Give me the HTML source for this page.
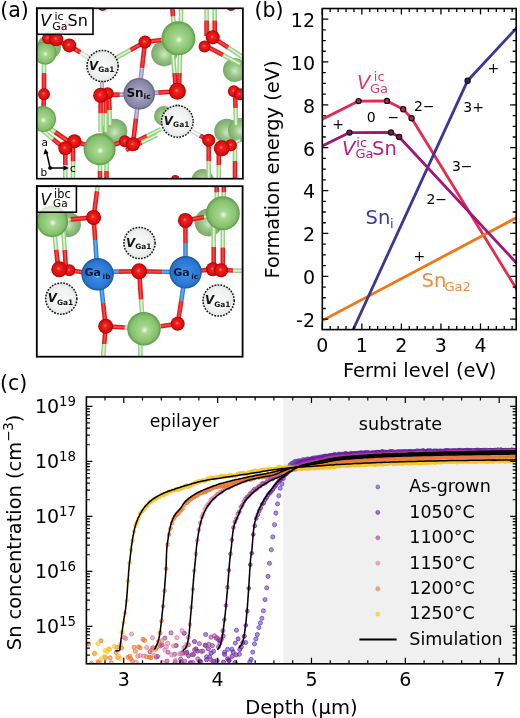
<!DOCTYPE html>
<html><head><meta charset="utf-8"><title>Figure</title>
<style>html,body{margin:0;padding:0;background:#fff;width:520px;height:718px;overflow:hidden}
svg{display:block}</style></head><body>
<svg width="520" height="718" viewBox="0 0 520 718" font-family="'DejaVu Sans', 'Liberation Sans', sans-serif">
<defs>
<radialGradient id="gG" cx="0.5" cy="0.5" r="0.5" fx="0.52" fy="0.55"><stop offset="0" stop-color="#eefce6"/><stop offset="0.22" stop-color="#a6d890"/><stop offset="0.8" stop-color="#84c06c"/><stop offset="1" stop-color="#5e9a4c"/></radialGradient>
<radialGradient id="gGf" cx="0.5" cy="0.5" r="0.5" fx="0.5" fy="0.55"><stop offset="0" stop-color="#cfe8c4"/><stop offset="0.45" stop-color="#9cc88a"/><stop offset="1" stop-color="#78a868"/></radialGradient>
<radialGradient id="gR" cx="0.5" cy="0.5" r="0.5" fx="0.45" fy="0.45"><stop offset="0" stop-color="#ff8080"/><stop offset="0.25" stop-color="#f02020"/><stop offset="0.8" stop-color="#d80c0c"/><stop offset="1" stop-color="#a00000"/></radialGradient>
<radialGradient id="gS" cx="0.5" cy="0.5" r="0.5" fx="0.5" fy="0.5"><stop offset="0" stop-color="#c4c4d8"/><stop offset="0.4" stop-color="#9c9aba"/><stop offset="0.85" stop-color="#8684a4"/><stop offset="1" stop-color="#626080"/></radialGradient>
<radialGradient id="gB" cx="0.5" cy="0.5" r="0.5" fx="0.5" fy="0.55"><stop offset="0" stop-color="#bfe0ff"/><stop offset="0.15" stop-color="#3c8ce4"/><stop offset="0.85" stop-color="#2874d0"/><stop offset="1" stop-color="#1a529a"/></radialGradient>
<radialGradient id="gV" cx="0.5" cy="0.5" r="0.5"><stop offset="0" stop-color="#fafafa"/><stop offset="0.75" stop-color="#eef0f0"/><stop offset="1" stop-color="#e2e4e4"/></radialGradient>
</defs>
<rect width="520" height="718" fill="#fff"/>
<text x="0.3" y="17.1" font-size="20.5">(a)</text>
<clipPath id="ca1"><rect x="37.6" y="9.1" width="204.5" height="168.8"/></clipPath>
<g clip-path="url(#ca1)">
<circle cx="164.2" cy="53.4" r="13.0" fill="url(#gGf)"/>
<circle cx="114.8" cy="131.2" r="12.5" fill="url(#gGf)"/>
<circle cx="235.0" cy="70.0" r="12.0" fill="url(#gGf)"/>
<circle cx="226.8" cy="131.2" r="12.5" fill="url(#gGf)"/>
<circle cx="164.0" cy="116.0" r="10.0" fill="url(#gGf)"/>
<circle cx="49.0" cy="47.0" r="12.0" fill="url(#gGf)"/>
<circle cx="202.6" cy="180.0" r="11.0" fill="url(#gGf)"/>
<circle cx="240.0" cy="130.0" r="12.0" fill="url(#gGf)"/>
<line x1="48.0" y1="38.0" x2="59.0" y2="42.0" stroke="#dc1c1c" stroke-width="4.6"/><line x1="59.0" y1="42.0" x2="70.0" y2="46.0" stroke="#dc1c1c" stroke-width="4.6"/><line x1="48.0" y1="38.0" x2="59.0" y2="42.0" stroke="#ff4a4a" stroke-width="1.8" opacity="0.9"/><line x1="59.0" y1="42.0" x2="70.0" y2="46.0" stroke="#ff4a4a" stroke-width="1.8" opacity="0.9"/>
<line x1="70.0" y1="46.0" x2="80.5" y2="52.5" stroke="#dc1c1c" stroke-width="4.6"/><line x1="80.5" y1="52.5" x2="91.0" y2="59.0" stroke="#d6d8d8" stroke-width="4.6"/><line x1="70.0" y1="46.0" x2="80.5" y2="52.5" stroke="#ff4a4a" stroke-width="1.8" opacity="0.9"/><line x1="80.5" y1="52.5" x2="91.0" y2="59.0" stroke="#ffffff" stroke-width="1.8" opacity="0.9"/>
<line x1="116.0" y1="58.0" x2="130.5" y2="50.0" stroke="#96d084" stroke-width="4.6"/><line x1="130.5" y1="50.0" x2="145.0" y2="42.0" stroke="#dc1c1c" stroke-width="4.6"/><line x1="116.0" y1="58.0" x2="130.5" y2="50.0" stroke="#e2f8d6" stroke-width="1.8" opacity="0.9"/><line x1="130.5" y1="50.0" x2="145.0" y2="42.0" stroke="#ff4a4a" stroke-width="1.8" opacity="0.9"/>
<line x1="145.0" y1="42.0" x2="142.0" y2="68.0" stroke="#dc1c1c" stroke-width="4.6"/><line x1="142.0" y1="68.0" x2="139.0" y2="94.0" stroke="#9494bc" stroke-width="4.6"/><line x1="145.0" y1="42.0" x2="142.0" y2="68.0" stroke="#ff4a4a" stroke-width="1.8" opacity="0.9"/><line x1="142.0" y1="68.0" x2="139.0" y2="94.0" stroke="#c8c8e4" stroke-width="1.8" opacity="0.9"/>
<line x1="145.0" y1="42.0" x2="161.5" y2="40.0" stroke="#dc1c1c" stroke-width="4.6"/><line x1="161.5" y1="40.0" x2="178.0" y2="38.0" stroke="#96d084" stroke-width="4.6"/><line x1="145.0" y1="42.0" x2="161.5" y2="40.0" stroke="#ff4a4a" stroke-width="1.8" opacity="0.9"/><line x1="161.5" y1="40.0" x2="178.0" y2="38.0" stroke="#e2f8d6" stroke-width="1.8" opacity="0.9"/>
<line x1="172.0" y1="5.0" x2="173.0" y2="16.5" stroke="#dc1c1c" stroke-width="4.6"/><line x1="173.0" y1="16.5" x2="174.0" y2="28.0" stroke="#96d084" stroke-width="4.6"/><line x1="172.0" y1="5.0" x2="173.0" y2="16.5" stroke="#ff4a4a" stroke-width="1.8" opacity="0.9"/><line x1="173.0" y1="16.5" x2="174.0" y2="28.0" stroke="#e2f8d6" stroke-width="1.8" opacity="0.9"/>
<line x1="181.0" y1="5.0" x2="181.0" y2="16.5" stroke="#96d084" stroke-width="4.6"/><line x1="181.0" y1="16.5" x2="181.0" y2="28.0" stroke="#96d084" stroke-width="4.6"/><line x1="181.0" y1="5.0" x2="181.0" y2="16.5" stroke="#e2f8d6" stroke-width="1.8" opacity="0.9"/><line x1="181.0" y1="16.5" x2="181.0" y2="28.0" stroke="#e2f8d6" stroke-width="1.8" opacity="0.9"/>
<line x1="206.6" y1="5.0" x2="206.6" y2="20.5" stroke="#96d084" stroke-width="4.6"/><line x1="206.6" y1="20.5" x2="206.6" y2="36.0" stroke="#dc1c1c" stroke-width="4.6"/><line x1="206.6" y1="5.0" x2="206.6" y2="20.5" stroke="#e2f8d6" stroke-width="1.8" opacity="0.9"/><line x1="206.6" y1="20.5" x2="206.6" y2="36.0" stroke="#ff4a4a" stroke-width="1.8" opacity="0.9"/>
<line x1="214.7" y1="5.0" x2="214.7" y2="20.5" stroke="#96d084" stroke-width="4.6"/><line x1="214.7" y1="20.5" x2="214.7" y2="36.0" stroke="#dc1c1c" stroke-width="4.6"/><line x1="214.7" y1="5.0" x2="214.7" y2="20.5" stroke="#e2f8d6" stroke-width="1.8" opacity="0.9"/><line x1="214.7" y1="20.5" x2="214.7" y2="36.0" stroke="#ff4a4a" stroke-width="1.8" opacity="0.9"/>
<line x1="212.7" y1="37.3" x2="228.3" y2="47.6" stroke="#dc1c1c" stroke-width="4.6"/><line x1="228.3" y1="47.6" x2="244.0" y2="58.0" stroke="#96d084" stroke-width="4.6"/><line x1="212.7" y1="37.3" x2="228.3" y2="47.6" stroke="#ff4a4a" stroke-width="1.8" opacity="0.9"/><line x1="228.3" y1="47.6" x2="244.0" y2="58.0" stroke="#e2f8d6" stroke-width="1.8" opacity="0.9"/>
<line x1="206.0" y1="46.0" x2="223.0" y2="55.0" stroke="#dc1c1c" stroke-width="4.6"/><line x1="223.0" y1="55.0" x2="240.0" y2="64.0" stroke="#96d084" stroke-width="4.6"/><line x1="206.0" y1="46.0" x2="223.0" y2="55.0" stroke="#ff4a4a" stroke-width="1.8" opacity="0.9"/><line x1="223.0" y1="55.0" x2="240.0" y2="64.0" stroke="#e2f8d6" stroke-width="1.8" opacity="0.9"/>
<line x1="173.0" y1="55.0" x2="174.5" y2="73.0" stroke="#96d084" stroke-width="4.6"/><line x1="174.5" y1="73.0" x2="176.0" y2="91.0" stroke="#dc1c1c" stroke-width="4.6"/><line x1="173.0" y1="55.0" x2="174.5" y2="73.0" stroke="#e2f8d6" stroke-width="1.8" opacity="0.9"/><line x1="174.5" y1="73.0" x2="176.0" y2="91.0" stroke="#ff4a4a" stroke-width="1.8" opacity="0.9"/>
<line x1="180.0" y1="55.0" x2="179.5" y2="73.0" stroke="#96d084" stroke-width="4.6"/><line x1="179.5" y1="73.0" x2="179.0" y2="91.0" stroke="#dc1c1c" stroke-width="4.6"/><line x1="180.0" y1="55.0" x2="179.5" y2="73.0" stroke="#e2f8d6" stroke-width="1.8" opacity="0.9"/><line x1="179.5" y1="73.0" x2="179.0" y2="91.0" stroke="#ff4a4a" stroke-width="1.8" opacity="0.9"/>
<line x1="177.4" y1="91.2" x2="158.2" y2="92.6" stroke="#dc1c1c" stroke-width="4.6"/><line x1="158.2" y1="92.6" x2="139.0" y2="94.0" stroke="#9494bc" stroke-width="4.6"/><line x1="177.4" y1="91.2" x2="158.2" y2="92.6" stroke="#ff4a4a" stroke-width="1.8" opacity="0.9"/><line x1="158.2" y1="92.6" x2="139.0" y2="94.0" stroke="#c8c8e4" stroke-width="1.8" opacity="0.9"/>
<line x1="100.6" y1="95.2" x2="119.8" y2="94.6" stroke="#dc1c1c" stroke-width="4.6"/><line x1="119.8" y1="94.6" x2="139.0" y2="94.0" stroke="#9494bc" stroke-width="4.6"/><line x1="100.6" y1="95.2" x2="119.8" y2="94.6" stroke="#ff4a4a" stroke-width="1.8" opacity="0.9"/><line x1="119.8" y1="94.6" x2="139.0" y2="94.0" stroke="#c8c8e4" stroke-width="1.8" opacity="0.9"/>
<line x1="139.0" y1="94.0" x2="136.0" y2="118.5" stroke="#9494bc" stroke-width="4.6"/><line x1="136.0" y1="118.5" x2="133.0" y2="143.0" stroke="#dc1c1c" stroke-width="4.6"/><line x1="139.0" y1="94.0" x2="136.0" y2="118.5" stroke="#c8c8e4" stroke-width="1.8" opacity="0.9"/><line x1="136.0" y1="118.5" x2="133.0" y2="143.0" stroke="#ff4a4a" stroke-width="1.8" opacity="0.9"/>
<line x1="102.0" y1="74.0" x2="102.0" y2="82.0" stroke="#a8a8a8" stroke-width="4.0"/><line x1="102.0" y1="82.0" x2="102.0" y2="90.0" stroke="#a8a8a8" stroke-width="4.0"/><line x1="102.0" y1="74.0" x2="102.0" y2="82.0" stroke="#dedede" stroke-width="1.6" opacity="0.9"/><line x1="102.0" y1="82.0" x2="102.0" y2="90.0" stroke="#dedede" stroke-width="1.6" opacity="0.9"/>
<line x1="177.4" y1="104.0" x2="177.4" y2="108.5" stroke="#a8a8a8" stroke-width="4.0"/><line x1="177.4" y1="108.5" x2="177.4" y2="113.0" stroke="#a8a8a8" stroke-width="4.0"/><line x1="177.4" y1="104.0" x2="177.4" y2="108.5" stroke="#dedede" stroke-width="1.6" opacity="0.9"/><line x1="177.4" y1="108.5" x2="177.4" y2="113.0" stroke="#dedede" stroke-width="1.6" opacity="0.9"/>
<line x1="100.6" y1="95.0" x2="100.6" y2="113.5" stroke="#dc1c1c" stroke-width="4.6"/><line x1="100.6" y1="113.5" x2="100.6" y2="132.0" stroke="#96d084" stroke-width="4.6"/><line x1="100.6" y1="95.0" x2="100.6" y2="113.5" stroke="#ff4a4a" stroke-width="1.8" opacity="0.9"/><line x1="100.6" y1="113.5" x2="100.6" y2="132.0" stroke="#e2f8d6" stroke-width="1.8" opacity="0.9"/>
<line x1="105.7" y1="95.0" x2="105.7" y2="113.5" stroke="#dc1c1c" stroke-width="4.6"/><line x1="105.7" y1="113.5" x2="105.7" y2="132.0" stroke="#96d084" stroke-width="4.6"/><line x1="105.7" y1="95.0" x2="105.7" y2="113.5" stroke="#ff4a4a" stroke-width="1.8" opacity="0.9"/><line x1="105.7" y1="113.5" x2="105.7" y2="132.0" stroke="#e2f8d6" stroke-width="1.8" opacity="0.9"/>
<line x1="109.0" y1="95.0" x2="109.5" y2="110.0" stroke="#dc1c1c" stroke-width="4.6"/><line x1="109.5" y1="110.0" x2="110.0" y2="125.0" stroke="#96d084" stroke-width="4.6"/><line x1="109.0" y1="95.0" x2="109.5" y2="110.0" stroke="#ff4a4a" stroke-width="1.8" opacity="0.9"/><line x1="109.5" y1="110.0" x2="110.0" y2="125.0" stroke="#e2f8d6" stroke-width="1.8" opacity="0.9"/>
<line x1="44.0" y1="52.0" x2="44.0" y2="73.0" stroke="#96d084" stroke-width="4.6"/><line x1="44.0" y1="73.0" x2="44.0" y2="94.0" stroke="#dc1c1c" stroke-width="4.6"/><line x1="44.0" y1="52.0" x2="44.0" y2="73.0" stroke="#e2f8d6" stroke-width="1.8" opacity="0.9"/><line x1="44.0" y1="73.0" x2="44.0" y2="94.0" stroke="#ff4a4a" stroke-width="1.8" opacity="0.9"/>
<line x1="44.0" y1="94.0" x2="43.5" y2="106.5" stroke="#dc1c1c" stroke-width="4.6"/><line x1="43.5" y1="106.5" x2="43.0" y2="119.0" stroke="#96d084" stroke-width="4.6"/><line x1="44.0" y1="94.0" x2="43.5" y2="106.5" stroke="#ff4a4a" stroke-width="1.8" opacity="0.9"/><line x1="43.5" y1="106.5" x2="43.0" y2="119.0" stroke="#e2f8d6" stroke-width="1.8" opacity="0.9"/>
<line x1="42.0" y1="123.0" x2="55.0" y2="132.0" stroke="#96d084" stroke-width="4.6"/><line x1="55.0" y1="132.0" x2="68.0" y2="141.0" stroke="#dc1c1c" stroke-width="4.6"/><line x1="42.0" y1="123.0" x2="55.0" y2="132.0" stroke="#e2f8d6" stroke-width="1.8" opacity="0.9"/><line x1="55.0" y1="132.0" x2="68.0" y2="141.0" stroke="#ff4a4a" stroke-width="1.8" opacity="0.9"/>
<line x1="42.0" y1="130.0" x2="53.0" y2="139.0" stroke="#96d084" stroke-width="4.6"/><line x1="53.0" y1="139.0" x2="64.0" y2="148.0" stroke="#dc1c1c" stroke-width="4.6"/><line x1="42.0" y1="130.0" x2="53.0" y2="139.0" stroke="#e2f8d6" stroke-width="1.8" opacity="0.9"/><line x1="53.0" y1="139.0" x2="64.0" y2="148.0" stroke="#ff4a4a" stroke-width="1.8" opacity="0.9"/>
<line x1="65.3" y1="148.0" x2="65.3" y2="165.0" stroke="#dc1c1c" stroke-width="4.6"/><line x1="65.3" y1="165.0" x2="65.3" y2="182.0" stroke="#96d084" stroke-width="4.6"/><line x1="65.3" y1="148.0" x2="65.3" y2="165.0" stroke="#ff4a4a" stroke-width="1.8" opacity="0.9"/><line x1="65.3" y1="165.0" x2="65.3" y2="182.0" stroke="#e2f8d6" stroke-width="1.8" opacity="0.9"/>
<line x1="73.0" y1="141.0" x2="73.0" y2="161.5" stroke="#dc1c1c" stroke-width="4.6"/><line x1="73.0" y1="161.5" x2="73.0" y2="182.0" stroke="#96d084" stroke-width="4.6"/><line x1="73.0" y1="141.0" x2="73.0" y2="161.5" stroke="#ff4a4a" stroke-width="1.8" opacity="0.9"/><line x1="73.0" y1="161.5" x2="73.0" y2="182.0" stroke="#e2f8d6" stroke-width="1.8" opacity="0.9"/>
<line x1="74.4" y1="141.3" x2="87.0" y2="145.3" stroke="#dc1c1c" stroke-width="4.6"/><line x1="87.0" y1="145.3" x2="99.6" y2="149.3" stroke="#96d084" stroke-width="4.6"/><line x1="74.4" y1="141.3" x2="87.0" y2="145.3" stroke="#ff4a4a" stroke-width="1.8" opacity="0.9"/><line x1="87.0" y1="145.3" x2="99.6" y2="149.3" stroke="#e2f8d6" stroke-width="1.8" opacity="0.9"/>
<line x1="99.6" y1="149.3" x2="112.3" y2="145.2" stroke="#96d084" stroke-width="4.6"/><line x1="112.3" y1="145.2" x2="125.0" y2="141.0" stroke="#dc1c1c" stroke-width="4.6"/><line x1="99.6" y1="149.3" x2="112.3" y2="145.2" stroke="#e2f8d6" stroke-width="1.8" opacity="0.9"/><line x1="112.3" y1="145.2" x2="125.0" y2="141.0" stroke="#ff4a4a" stroke-width="1.8" opacity="0.9"/>
<line x1="100.0" y1="160.0" x2="100.0" y2="171.0" stroke="#96d084" stroke-width="4.6"/><line x1="100.0" y1="171.0" x2="100.0" y2="182.0" stroke="#dc1c1c" stroke-width="4.6"/><line x1="100.0" y1="160.0" x2="100.0" y2="171.0" stroke="#e2f8d6" stroke-width="1.8" opacity="0.9"/><line x1="100.0" y1="171.0" x2="100.0" y2="182.0" stroke="#ff4a4a" stroke-width="1.8" opacity="0.9"/>
<line x1="106.5" y1="160.0" x2="106.5" y2="171.0" stroke="#96d084" stroke-width="4.6"/><line x1="106.5" y1="171.0" x2="106.5" y2="182.0" stroke="#dc1c1c" stroke-width="4.6"/><line x1="106.5" y1="160.0" x2="106.5" y2="171.0" stroke="#e2f8d6" stroke-width="1.8" opacity="0.9"/><line x1="106.5" y1="171.0" x2="106.5" y2="182.0" stroke="#ff4a4a" stroke-width="1.8" opacity="0.9"/>
<line x1="161.0" y1="129.0" x2="147.0" y2="136.0" stroke="#96d084" stroke-width="4.6"/><line x1="147.0" y1="136.0" x2="133.0" y2="143.0" stroke="#dc1c1c" stroke-width="4.6"/><line x1="161.0" y1="129.0" x2="147.0" y2="136.0" stroke="#e2f8d6" stroke-width="1.8" opacity="0.9"/><line x1="147.0" y1="136.0" x2="133.0" y2="143.0" stroke="#ff4a4a" stroke-width="1.8" opacity="0.9"/>
<line x1="157.0" y1="135.0" x2="141.5" y2="142.5" stroke="#96d084" stroke-width="4.6"/><line x1="141.5" y1="142.5" x2="126.0" y2="150.0" stroke="#dc1c1c" stroke-width="4.6"/><line x1="157.0" y1="135.0" x2="141.5" y2="142.5" stroke="#e2f8d6" stroke-width="1.8" opacity="0.9"/><line x1="141.5" y1="142.5" x2="126.0" y2="150.0" stroke="#ff4a4a" stroke-width="1.8" opacity="0.9"/>
<line x1="192.0" y1="131.0" x2="200.0" y2="135.5" stroke="#d6d8d8" stroke-width="4.6"/><line x1="200.0" y1="135.5" x2="208.0" y2="140.0" stroke="#dc1c1c" stroke-width="4.6"/><line x1="192.0" y1="131.0" x2="200.0" y2="135.5" stroke="#ffffff" stroke-width="1.8" opacity="0.9"/><line x1="200.0" y1="135.5" x2="208.0" y2="140.0" stroke="#ff4a4a" stroke-width="1.8" opacity="0.9"/>
<line x1="208.7" y1="140.0" x2="208.7" y2="161.0" stroke="#dc1c1c" stroke-width="4.6"/><line x1="208.7" y1="161.0" x2="208.7" y2="182.0" stroke="#96d084" stroke-width="4.6"/><line x1="208.7" y1="140.0" x2="208.7" y2="161.0" stroke="#ff4a4a" stroke-width="1.8" opacity="0.9"/><line x1="208.7" y1="161.0" x2="208.7" y2="182.0" stroke="#e2f8d6" stroke-width="1.8" opacity="0.9"/>
<line x1="218.8" y1="148.0" x2="218.8" y2="165.0" stroke="#dc1c1c" stroke-width="4.6"/><line x1="218.8" y1="165.0" x2="218.8" y2="182.0" stroke="#96d084" stroke-width="4.6"/><line x1="218.8" y1="148.0" x2="218.8" y2="165.0" stroke="#ff4a4a" stroke-width="1.8" opacity="0.9"/><line x1="218.8" y1="165.0" x2="218.8" y2="182.0" stroke="#e2f8d6" stroke-width="1.8" opacity="0.9"/>
<line x1="235.0" y1="91.0" x2="235.5" y2="108.0" stroke="#dc1c1c" stroke-width="4.6"/><line x1="235.5" y1="108.0" x2="236.0" y2="125.0" stroke="#96d084" stroke-width="4.6"/><line x1="235.0" y1="91.0" x2="235.5" y2="108.0" stroke="#ff4a4a" stroke-width="1.8" opacity="0.9"/><line x1="235.5" y1="108.0" x2="236.0" y2="125.0" stroke="#e2f8d6" stroke-width="1.8" opacity="0.9"/>
<line x1="235.0" y1="140.0" x2="235.0" y2="161.0" stroke="#96d084" stroke-width="4.6"/><line x1="235.0" y1="161.0" x2="235.0" y2="182.0" stroke="#dc1c1c" stroke-width="4.6"/><line x1="235.0" y1="140.0" x2="235.0" y2="161.0" stroke="#e2f8d6" stroke-width="1.8" opacity="0.9"/><line x1="235.0" y1="161.0" x2="235.0" y2="182.0" stroke="#ff4a4a" stroke-width="1.8" opacity="0.9"/>
<line x1="221.8" y1="148.3" x2="230.9" y2="144.2" stroke="#dc1c1c" stroke-width="4.6"/><line x1="230.9" y1="144.2" x2="240.0" y2="140.0" stroke="#96d084" stroke-width="4.6"/><line x1="221.8" y1="148.3" x2="230.9" y2="144.2" stroke="#ff4a4a" stroke-width="1.8" opacity="0.9"/><line x1="230.9" y1="144.2" x2="240.0" y2="140.0" stroke="#e2f8d6" stroke-width="1.8" opacity="0.9"/>
<line x1="56.0" y1="39.0" x2="68.0" y2="22.0" stroke="#dc1c1c" stroke-width="4.6"/><line x1="68.0" y1="22.0" x2="80.0" y2="5.0" stroke="#d6d8d8" stroke-width="4.6"/><line x1="56.0" y1="39.0" x2="68.0" y2="22.0" stroke="#ff4a4a" stroke-width="1.8" opacity="0.9"/><line x1="68.0" y1="22.0" x2="80.0" y2="5.0" stroke="#ffffff" stroke-width="1.8" opacity="0.9"/>
<circle cx="43.0" cy="119.0" r="13.0" fill="url(#gG)"/>
<circle cx="45.0" cy="53.0" r="11.5" fill="url(#gG)"/>
<circle cx="178.4" cy="38.3" r="17.0" fill="url(#gG)"/>
<circle cx="99.6" cy="149.3" r="16.0" fill="url(#gG)"/>
<circle cx="48.1" cy="38.3" r="6.0" fill="url(#gR)"/>
<circle cx="56.2" cy="39.3" r="7.0" fill="url(#gR)"/>
<circle cx="69.3" cy="45.4" r="7.0" fill="url(#gR)"/>
<circle cx="145.0" cy="42.0" r="6.5" fill="url(#gR)"/>
<circle cx="212.7" cy="37.3" r="7.0" fill="url(#gR)"/>
<circle cx="204.6" cy="46.4" r="6.0" fill="url(#gR)"/>
<circle cx="177.4" cy="91.2" r="8.5" fill="url(#gR)"/>
<circle cx="107.7" cy="93.2" r="6.0" fill="url(#gR)"/>
<circle cx="100.6" cy="95.2" r="7.5" fill="url(#gR)"/>
<circle cx="44.0" cy="94.2" r="6.0" fill="url(#gR)"/>
<circle cx="74.4" cy="141.3" r="7.0" fill="url(#gR)"/>
<circle cx="65.3" cy="148.3" r="7.0" fill="url(#gR)"/>
<circle cx="124.9" cy="141.3" r="6.0" fill="url(#gR)"/>
<circle cx="133.0" cy="144.3" r="7.0" fill="url(#gR)"/>
<circle cx="208.7" cy="140.2" r="6.5" fill="url(#gR)"/>
<circle cx="230.9" cy="145.3" r="6.0" fill="url(#gR)"/>
<circle cx="221.8" cy="148.3" r="8.0" fill="url(#gR)"/>
<circle cx="233.9" cy="91.2" r="6.0" fill="url(#gR)"/>
<circle cx="240.0" cy="94.2" r="6.0" fill="url(#gR)"/>
<circle cx="102.6" cy="6.0" r="5.0" fill="url(#gR)"/>
<circle cx="231.0" cy="6.0" r="5.0" fill="url(#gR)"/>
<circle cx="175.3" cy="179.0" r="4.0" fill="url(#gR)"/>
<circle cx="139.2" cy="93.8" r="15.8" fill="url(#gS)"/>
<circle cx="102.6" cy="66.0" r="15.6" fill="url(#gV)" stroke="#111" stroke-width="1.5" stroke-dasharray="1.7 1.3"/>
<circle cx="177.4" cy="121.4" r="15.8" fill="url(#gV)" stroke="#111" stroke-width="1.5" stroke-dasharray="1.7 1.3"/>
</g>
<text x="89.0" y="69.5" font-size="11.8" font-weight="bold" font-style="italic" fill="#111">V</text><text x="98.3" y="72.0" font-size="7.4" font-weight="bold" fill="#111">Ga1</text>
<text x="163.8" y="124.9" font-size="11.8" font-weight="bold" font-style="italic" fill="#111">V</text><text x="173.1" y="127.4" font-size="7.4" font-weight="bold" fill="#111">Ga1</text>
<text x="126.4" y="96.8" font-size="12" font-weight="bold" fill="#111">Sn</text><text x="143.6" y="99.4" font-size="7.6" font-weight="bold" fill="#111">ic</text>
<path d="M50.1 167.9 L46.5 152 M50.1 167.9 L66 167.9" stroke="#000" stroke-width="1.5" fill="none"/>
<path d="M45.2 148.5 L43.5 154.5 L48.5 153.2 Z M69 167.9 L63.5 165.4 L63.5 170.4 Z" fill="#000"/>
<circle cx="50.1" cy="167.9" r="1.9" fill="#000"/>
<text x="41.5" y="146" font-size="10.5">a</text><text x="40.5" y="175.5" font-size="10.5">b</text><text x="70" y="171.5" font-size="10.5">c</text>
<rect x="36.8" y="8.3" width="56.2" height="26" fill="#fff" fill-opacity="0.88" stroke="#000" stroke-width="1.6"/>
<text x="40.2" y="25.8" font-size="16" font-style="italic">V</text><text x="54.4" y="19.9" font-size="11">ic</text><text x="52.2" y="29.5" font-size="11">Ga</text><text x="67.6" y="25.8" font-size="16" textLength="20.3" lengthAdjust="spacingAndGlyphs">Sn</text>
<rect x="36.8" y="8.3" width="206.1" height="170.4" fill="none" stroke="#000" stroke-width="1.7"/>
<clipPath id="ca2"><rect x="37.6" y="187" width="204.2" height="168.9"/></clipPath>
<g clip-path="url(#ca2)">
<circle cx="68.4" cy="224.4" r="12.5" fill="url(#gGf)"/>
<circle cx="208.7" cy="222.4" r="14.0" fill="url(#gGf)"/>
<line x1="98.5" y1="180.0" x2="97.0" y2="191.2" stroke="#96d084" stroke-width="4.6"/><line x1="97.0" y1="191.2" x2="93.6" y2="217.4" stroke="#dc1c1c" stroke-width="4.6"/><line x1="98.5" y1="180.0" x2="97.0" y2="191.2" stroke="#e2f8d6" stroke-width="1.8" opacity="0.9"/><line x1="97.0" y1="191.2" x2="93.6" y2="217.4" stroke="#ff4a4a" stroke-width="1.8" opacity="0.9"/>
<line x1="52.0" y1="221.0" x2="70.7" y2="219.4" stroke="#96d084" stroke-width="4.6"/><line x1="70.7" y1="219.4" x2="93.6" y2="217.4" stroke="#dc1c1c" stroke-width="4.6"/><line x1="52.0" y1="221.0" x2="70.7" y2="219.4" stroke="#e2f8d6" stroke-width="1.8" opacity="0.9"/><line x1="70.7" y1="219.4" x2="93.6" y2="217.4" stroke="#ff4a4a" stroke-width="1.8" opacity="0.9"/>
<line x1="93.6" y1="217.4" x2="95.2" y2="240.2" stroke="#dc1c1c" stroke-width="4.6"/><line x1="95.2" y1="240.2" x2="97.6" y2="274.3" stroke="#2f82d8" stroke-width="4.6"/><line x1="93.6" y1="217.4" x2="95.2" y2="240.2" stroke="#ff4a4a" stroke-width="1.8" opacity="0.9"/><line x1="95.2" y1="240.2" x2="97.6" y2="274.3" stroke="#66b2f4" stroke-width="1.8" opacity="0.9"/>
<line x1="54.2" y1="230.0" x2="56.2" y2="249.7" stroke="#96d084" stroke-width="4.6"/><line x1="56.2" y1="249.7" x2="58.3" y2="269.3" stroke="#dc1c1c" stroke-width="4.6"/><line x1="54.2" y1="230.0" x2="56.2" y2="249.7" stroke="#e2f8d6" stroke-width="1.8" opacity="0.9"/><line x1="56.2" y1="249.7" x2="58.3" y2="269.3" stroke="#ff4a4a" stroke-width="1.8" opacity="0.9"/>
<line x1="63.3" y1="230.0" x2="64.7" y2="250.0" stroke="#96d084" stroke-width="4.6"/><line x1="64.7" y1="250.0" x2="66.0" y2="270.0" stroke="#dc1c1c" stroke-width="4.6"/><line x1="63.3" y1="230.0" x2="64.7" y2="250.0" stroke="#e2f8d6" stroke-width="1.8" opacity="0.9"/><line x1="64.7" y1="250.0" x2="66.0" y2="270.0" stroke="#ff4a4a" stroke-width="1.8" opacity="0.9"/>
<line x1="69.4" y1="270.3" x2="84.9" y2="272.5" stroke="#dc1c1c" stroke-width="4.6"/><line x1="84.9" y1="272.5" x2="97.6" y2="274.3" stroke="#2f82d8" stroke-width="4.6"/><line x1="69.4" y1="270.3" x2="84.9" y2="272.5" stroke="#ff4a4a" stroke-width="1.8" opacity="0.9"/><line x1="84.9" y1="272.5" x2="97.6" y2="274.3" stroke="#66b2f4" stroke-width="1.8" opacity="0.9"/>
<line x1="97.6" y1="272.0" x2="118.4" y2="271.6" stroke="#2f82d8" stroke-width="4.6"/><line x1="118.4" y1="271.6" x2="139.2" y2="271.3" stroke="#dc1c1c" stroke-width="4.6"/><line x1="97.6" y1="272.0" x2="118.4" y2="271.6" stroke="#66b2f4" stroke-width="1.8" opacity="0.9"/><line x1="118.4" y1="271.6" x2="139.2" y2="271.3" stroke="#ff4a4a" stroke-width="1.8" opacity="0.9"/>
<line x1="139.2" y1="271.3" x2="162.4" y2="271.8" stroke="#dc1c1c" stroke-width="4.6"/><line x1="162.4" y1="271.8" x2="185.6" y2="272.3" stroke="#2f82d8" stroke-width="4.6"/><line x1="139.2" y1="271.3" x2="162.4" y2="271.8" stroke="#ff4a4a" stroke-width="1.8" opacity="0.9"/><line x1="162.4" y1="271.8" x2="185.6" y2="272.3" stroke="#66b2f4" stroke-width="1.8" opacity="0.9"/>
<line x1="139.2" y1="271.3" x2="141.1" y2="299.6" stroke="#dc1c1c" stroke-width="4.6"/><line x1="141.1" y1="299.6" x2="143.0" y2="328.0" stroke="#96d084" stroke-width="4.6"/><line x1="139.2" y1="271.3" x2="141.1" y2="299.6" stroke="#ff4a4a" stroke-width="1.8" opacity="0.9"/><line x1="141.1" y1="299.6" x2="143.0" y2="328.0" stroke="#e2f8d6" stroke-width="1.8" opacity="0.9"/>
<line x1="100.0" y1="274.3" x2="103.1" y2="302.9" stroke="#2f82d8" stroke-width="4.6"/><line x1="103.1" y1="302.9" x2="105.7" y2="326.3" stroke="#dc1c1c" stroke-width="4.6"/><line x1="100.0" y1="274.3" x2="103.1" y2="302.9" stroke="#66b2f4" stroke-width="1.8" opacity="0.9"/><line x1="103.1" y1="302.9" x2="105.7" y2="326.3" stroke="#ff4a4a" stroke-width="1.8" opacity="0.9"/>
<line x1="105.7" y1="326.3" x2="104.2" y2="344.1" stroke="#dc1c1c" stroke-width="4.6"/><line x1="104.2" y1="344.1" x2="102.7" y2="362.0" stroke="#96d084" stroke-width="4.6"/><line x1="105.7" y1="326.3" x2="104.2" y2="344.1" stroke="#ff4a4a" stroke-width="1.8" opacity="0.9"/><line x1="104.2" y1="344.1" x2="102.7" y2="362.0" stroke="#e2f8d6" stroke-width="1.8" opacity="0.9"/>
<line x1="105.7" y1="326.3" x2="124.8" y2="327.5" stroke="#dc1c1c" stroke-width="4.6"/><line x1="124.8" y1="327.5" x2="144.0" y2="328.7" stroke="#96d084" stroke-width="4.6"/><line x1="105.7" y1="326.3" x2="124.8" y2="327.5" stroke="#ff4a4a" stroke-width="1.8" opacity="0.9"/><line x1="124.8" y1="327.5" x2="144.0" y2="328.7" stroke="#e2f8d6" stroke-width="1.8" opacity="0.9"/>
<line x1="185.4" y1="220.4" x2="185.5" y2="243.8" stroke="#dc1c1c" stroke-width="4.6"/><line x1="185.5" y1="243.8" x2="185.6" y2="272.3" stroke="#2f82d8" stroke-width="4.6"/><line x1="185.4" y1="220.4" x2="185.5" y2="243.8" stroke="#ff4a4a" stroke-width="1.8" opacity="0.9"/><line x1="185.5" y1="243.8" x2="185.6" y2="272.3" stroke="#66b2f4" stroke-width="1.8" opacity="0.9"/>
<line x1="185.4" y1="220.4" x2="204.1" y2="216.9" stroke="#dc1c1c" stroke-width="4.6"/><line x1="204.1" y1="216.9" x2="222.8" y2="213.3" stroke="#96d084" stroke-width="4.6"/><line x1="185.4" y1="220.4" x2="204.1" y2="216.9" stroke="#ff4a4a" stroke-width="1.8" opacity="0.9"/><line x1="204.1" y1="216.9" x2="222.8" y2="213.3" stroke="#e2f8d6" stroke-width="1.8" opacity="0.9"/>
<line x1="216.7" y1="180.0" x2="216.7" y2="192.5" stroke="#dc1c1c" stroke-width="4.6"/><line x1="216.7" y1="192.5" x2="216.7" y2="205.0" stroke="#96d084" stroke-width="4.6"/><line x1="216.7" y1="180.0" x2="216.7" y2="192.5" stroke="#ff4a4a" stroke-width="1.8" opacity="0.9"/><line x1="216.7" y1="192.5" x2="216.7" y2="205.0" stroke="#e2f8d6" stroke-width="1.8" opacity="0.9"/>
<line x1="223.8" y1="180.0" x2="223.8" y2="192.5" stroke="#dc1c1c" stroke-width="4.6"/><line x1="223.8" y1="192.5" x2="223.8" y2="205.0" stroke="#96d084" stroke-width="4.6"/><line x1="223.8" y1="180.0" x2="223.8" y2="192.5" stroke="#ff4a4a" stroke-width="1.8" opacity="0.9"/><line x1="223.8" y1="192.5" x2="223.8" y2="205.0" stroke="#e2f8d6" stroke-width="1.8" opacity="0.9"/>
<line x1="213.7" y1="225.0" x2="213.7" y2="247.0" stroke="#96d084" stroke-width="4.6"/><line x1="213.7" y1="247.0" x2="213.7" y2="269.0" stroke="#dc1c1c" stroke-width="4.6"/><line x1="213.7" y1="225.0" x2="213.7" y2="247.0" stroke="#e2f8d6" stroke-width="1.8" opacity="0.9"/><line x1="213.7" y1="247.0" x2="213.7" y2="269.0" stroke="#ff4a4a" stroke-width="1.8" opacity="0.9"/>
<line x1="222.8" y1="225.0" x2="222.8" y2="247.5" stroke="#96d084" stroke-width="4.6"/><line x1="222.8" y1="247.5" x2="222.8" y2="270.0" stroke="#dc1c1c" stroke-width="4.6"/><line x1="222.8" y1="225.0" x2="222.8" y2="247.5" stroke="#e2f8d6" stroke-width="1.8" opacity="0.9"/><line x1="222.8" y1="247.5" x2="222.8" y2="270.0" stroke="#ff4a4a" stroke-width="1.8" opacity="0.9"/>
<line x1="185.6" y1="272.3" x2="199.3" y2="270.8" stroke="#2f82d8" stroke-width="4.6"/><line x1="199.3" y1="270.8" x2="213.0" y2="269.3" stroke="#dc1c1c" stroke-width="4.6"/><line x1="185.6" y1="272.3" x2="199.3" y2="270.8" stroke="#66b2f4" stroke-width="1.8" opacity="0.9"/><line x1="199.3" y1="270.8" x2="213.0" y2="269.3" stroke="#ff4a4a" stroke-width="1.8" opacity="0.9"/>
<line x1="185.6" y1="272.3" x2="181.3" y2="300.6" stroke="#2f82d8" stroke-width="4.6"/><line x1="181.3" y1="300.6" x2="177.7" y2="323.8" stroke="#dc1c1c" stroke-width="4.6"/><line x1="185.6" y1="272.3" x2="181.3" y2="300.6" stroke="#66b2f4" stroke-width="1.8" opacity="0.9"/><line x1="181.3" y1="300.6" x2="177.7" y2="323.8" stroke="#ff4a4a" stroke-width="1.8" opacity="0.9"/>
<line x1="144.0" y1="328.7" x2="160.8" y2="326.2" stroke="#96d084" stroke-width="4.6"/><line x1="160.8" y1="326.2" x2="177.7" y2="323.8" stroke="#dc1c1c" stroke-width="4.6"/><line x1="144.0" y1="328.7" x2="160.8" y2="326.2" stroke="#e2f8d6" stroke-width="1.8" opacity="0.9"/><line x1="160.8" y1="326.2" x2="177.7" y2="323.8" stroke="#ff4a4a" stroke-width="1.8" opacity="0.9"/>
<line x1="140.4" y1="330.0" x2="140.4" y2="346.0" stroke="#96d084" stroke-width="4.6"/><line x1="140.4" y1="346.0" x2="140.4" y2="362.0" stroke="#96d084" stroke-width="4.6"/><line x1="140.4" y1="330.0" x2="140.4" y2="346.0" stroke="#e2f8d6" stroke-width="1.8" opacity="0.9"/><line x1="140.4" y1="346.0" x2="140.4" y2="362.0" stroke="#e2f8d6" stroke-width="1.8" opacity="0.9"/>
<line x1="221.0" y1="270.0" x2="233.0" y2="270.5" stroke="#dc1c1c" stroke-width="4.6"/><line x1="233.0" y1="270.5" x2="245.0" y2="271.0" stroke="#96d084" stroke-width="4.6"/><line x1="221.0" y1="270.0" x2="233.0" y2="270.5" stroke="#ff4a4a" stroke-width="1.8" opacity="0.9"/><line x1="233.0" y1="270.5" x2="245.0" y2="271.0" stroke="#e2f8d6" stroke-width="1.8" opacity="0.9"/>
<circle cx="52.2" cy="221.4" r="15.8" fill="url(#gG)"/>
<circle cx="222.8" cy="213.3" r="17.0" fill="url(#gG)"/>
<circle cx="144.0" cy="328.7" r="16.8" fill="url(#gG)"/>
<circle cx="93.6" cy="217.4" r="7.5" fill="url(#gR)"/>
<circle cx="185.4" cy="220.4" r="7.5" fill="url(#gR)"/>
<circle cx="69.4" cy="270.3" r="6.0" fill="url(#gR)"/>
<circle cx="59.3" cy="269.3" r="8.0" fill="url(#gR)"/>
<circle cx="139.2" cy="271.3" r="8.0" fill="url(#gR)"/>
<circle cx="212.9" cy="269.3" r="7.0" fill="url(#gR)"/>
<circle cx="221.0" cy="270.3" r="7.0" fill="url(#gR)"/>
<circle cx="105.7" cy="326.3" r="7.5" fill="url(#gR)"/>
<circle cx="177.7" cy="323.8" r="7.0" fill="url(#gR)"/>
<circle cx="97.6" cy="274.3" r="16.2" fill="url(#gB)"/>
<circle cx="185.6" cy="272.3" r="16.2" fill="url(#gB)"/>
<circle cx="139.5" cy="243.0" r="15.6" fill="url(#gV)" stroke="#111" stroke-width="1.5" stroke-dasharray="1.7 1.3"/>
<circle cx="61.3" cy="298.6" r="15.6" fill="url(#gV)" stroke="#111" stroke-width="1.5" stroke-dasharray="1.7 1.3"/>
<circle cx="218.6" cy="300.5" r="15.6" fill="url(#gV)" stroke="#111" stroke-width="1.5" stroke-dasharray="1.7 1.3"/>
</g>
<text x="125.9" y="246.5" font-size="11.8" font-weight="bold" font-style="italic" fill="#111">V</text><text x="135.2" y="249.0" font-size="7.4" font-weight="bold" fill="#111">Ga1</text>
<text x="47.7" y="302.1" font-size="11.8" font-weight="bold" font-style="italic" fill="#111">V</text><text x="57.0" y="304.6" font-size="7.4" font-weight="bold" fill="#111">Ga1</text>
<text x="205.0" y="304.0" font-size="11.8" font-weight="bold" font-style="italic" fill="#111">V</text><text x="214.3" y="306.5" font-size="7.4" font-weight="bold" fill="#111">Ga1</text>
<text x="84.6" y="275.7" font-size="11" font-weight="bold" fill="#0a1838">Ga</text><text x="102.6" y="278.6" font-size="7.4" font-weight="bold" fill="#0a1838">ib</text>
<text x="173.2" y="275.7" font-size="11" font-weight="bold" fill="#0a1838">Ga</text><text x="191.2" y="278.6" font-size="7.4" font-weight="bold" fill="#0a1838">ic</text>
<rect x="36.8" y="186.2" width="39.6" height="26" fill="#fff" fill-opacity="0.72" stroke="#000" stroke-width="1.6"/>
<text x="40.5" y="205.2" font-size="15.5" font-style="italic">V</text><text x="54" y="197.8" font-size="11.4">ibc</text><text x="53" y="207.3" font-size="10.5">Ga</text>
<rect x="36.8" y="186.2" width="205.8" height="170.5" fill="none" stroke="#000" stroke-width="1.8"/>
<clipPath id="cb"><rect x="322.3" y="8.5" width="193.9" height="321.1"/></clipPath>
<g clip-path="url(#cb)" fill="none" stroke-linejoin="round" stroke-linecap="butt">
<polyline points="322.3,119.2 358.6,101.1 387,100.9 403.2,109.2 411.6,118.3 520,294.6" stroke="#e8294f" stroke-width="2.8"/>
<polyline points="322.3,320.6 520,215.8" stroke="#f07616" stroke-width="2.8"/>
<polyline points="351.6,333 467.6,80.7 520,24.3" stroke="#3a3896" stroke-width="2.8"/>
<polyline points="322.3,146 349.5,132.6 391,132.5 399.2,137 520,266.8" stroke="#a0177a" stroke-width="2.8"/>
</g>
<circle cx="358.6" cy="101.1" r="2.6" fill="#a82a4c" stroke="#111" stroke-width="1.2"/>
<circle cx="387.0" cy="100.9" r="2.6" fill="#a82a4c" stroke="#111" stroke-width="1.2"/>
<circle cx="403.2" cy="109.2" r="2.6" fill="#a82a4c" stroke="#111" stroke-width="1.2"/>
<circle cx="411.6" cy="118.3" r="2.6" fill="#a82a4c" stroke="#111" stroke-width="1.2"/>
<circle cx="349.5" cy="132.6" r="2.6" fill="#7d1560" stroke="#111" stroke-width="1.2"/>
<circle cx="391.0" cy="132.5" r="2.6" fill="#7d1560" stroke="#111" stroke-width="1.2"/>
<circle cx="399.2" cy="137.0" r="2.6" fill="#7d1560" stroke="#111" stroke-width="1.2"/>
<circle cx="467.6" cy="80.7" r="2.6" fill="#25256a" stroke="#111" stroke-width="1.2"/>
<path d="M322.3 319.20h6.0M516.2 319.20h-6.0M322.3 308.48h3.5M516.2 308.48h-3.5M322.3 297.77h3.5M516.2 297.77h-3.5M322.3 287.05h3.5M516.2 287.05h-3.5M322.3 276.33h6.0M516.2 276.33h-6.0M322.3 265.61h3.5M516.2 265.61h-3.5M322.3 254.89h3.5M516.2 254.89h-3.5M322.3 244.18h3.5M516.2 244.18h-3.5M322.3 233.46h6.0M516.2 233.46h-6.0M322.3 222.74h3.5M516.2 222.74h-3.5M322.3 212.02h3.5M516.2 212.02h-3.5M322.3 201.30h3.5M516.2 201.30h-3.5M322.3 190.59h6.0M516.2 190.59h-6.0M322.3 179.87h3.5M516.2 179.87h-3.5M322.3 169.15h3.5M516.2 169.15h-3.5M322.3 158.43h3.5M516.2 158.43h-3.5M322.3 147.71h6.0M516.2 147.71h-6.0M322.3 137.00h3.5M516.2 137.00h-3.5M322.3 126.28h3.5M516.2 126.28h-3.5M322.3 115.56h3.5M516.2 115.56h-3.5M322.3 104.84h6.0M516.2 104.84h-6.0M322.3 94.12h3.5M516.2 94.12h-3.5M322.3 83.41h3.5M516.2 83.41h-3.5M322.3 72.69h3.5M516.2 72.69h-3.5M322.3 61.97h6.0M516.2 61.97h-6.0M322.3 51.25h3.5M516.2 51.25h-3.5M322.3 40.53h3.5M516.2 40.53h-3.5M322.3 29.82h3.5M516.2 29.82h-3.5M322.3 19.10h6.0M516.2 19.10h-6.0M322.30 329.6v-6.0M322.30 8.5v6.0M330.21 329.6v-3.5M330.21 8.5v3.5M338.12 329.6v-3.5M338.12 8.5v3.5M346.03 329.6v-3.5M346.03 8.5v3.5M353.94 329.6v-3.5M353.94 8.5v3.5M361.85 329.6v-6.0M361.85 8.5v6.0M369.76 329.6v-3.5M369.76 8.5v3.5M377.67 329.6v-3.5M377.67 8.5v3.5M385.58 329.6v-3.5M385.58 8.5v3.5M393.49 329.6v-3.5M393.49 8.5v3.5M401.40 329.6v-6.0M401.40 8.5v6.0M409.31 329.6v-3.5M409.31 8.5v3.5M417.22 329.6v-3.5M417.22 8.5v3.5M425.13 329.6v-3.5M425.13 8.5v3.5M433.04 329.6v-3.5M433.04 8.5v3.5M440.95 329.6v-6.0M440.95 8.5v6.0M448.86 329.6v-3.5M448.86 8.5v3.5M456.77 329.6v-3.5M456.77 8.5v3.5M464.68 329.6v-3.5M464.68 8.5v3.5M472.59 329.6v-3.5M472.59 8.5v3.5M480.50 329.6v-6.0M480.50 8.5v6.0M488.41 329.6v-3.5M488.41 8.5v3.5M496.32 329.6v-3.5M496.32 8.5v3.5M504.23 329.6v-3.5M504.23 8.5v3.5M512.14 329.6v-3.5M512.14 8.5v3.5" stroke="#000" stroke-width="1.3" fill="none"/>
<rect x="322.3" y="8.5" width="193.9" height="321.1" fill="none" stroke="#000" stroke-width="1.6"/>
<text x="315" y="327.0" text-anchor="end" font-size="19">-2</text>
<text x="315" y="284.1" text-anchor="end" font-size="19">0</text>
<text x="315" y="241.3" text-anchor="end" font-size="19">2</text>
<text x="315" y="198.4" text-anchor="end" font-size="19">4</text>
<text x="315" y="155.5" text-anchor="end" font-size="19">6</text>
<text x="315" y="112.6" text-anchor="end" font-size="19">8</text>
<text x="315" y="69.8" text-anchor="end" font-size="19">10</text>
<text x="315" y="26.9" text-anchor="end" font-size="19">12</text>
<text x="322.3" y="351.5" text-anchor="middle" font-size="19">0</text>
<text x="361.9" y="351.5" text-anchor="middle" font-size="19">1</text>
<text x="401.4" y="351.5" text-anchor="middle" font-size="19">2</text>
<text x="440.9" y="351.5" text-anchor="middle" font-size="19">3</text>
<text x="480.5" y="351.5" text-anchor="middle" font-size="19">4</text>
<text x="419.7" y="377" text-anchor="middle" font-size="19.5">Fermi level (eV)</text>
<text transform="translate(279.3,169.5) rotate(-90)" text-anchor="middle" font-size="19.4">Formation energy (eV)</text>
<text x="254.5" y="16.5" font-size="20.5">(b)</text>
<g font-size="14">
<text x="371.2" y="121.6" text-anchor="middle">0</text>
<text x="393.4" y="121.6" text-anchor="middle">−</text>
<text x="424.3" y="111" text-anchor="middle">2−</text>
<text x="338" y="129" text-anchor="middle">+</text>
<text x="473.6" y="111.6" text-anchor="middle">3+</text>
<text x="493.3" y="73" text-anchor="middle">+</text>
<text x="462.2" y="171.2" text-anchor="middle">3−</text>
<text x="436.7" y="203.7" text-anchor="middle">2−</text>
<text x="419.4" y="260.8" text-anchor="middle">+</text>
</g>
<text x="357" y="88.8" font-size="19.5" fill="#e03a64"><tspan font-style="italic">V</tspan></text>
<text x="373.8" y="80.8" font-size="13" fill="#e03a64">ic</text>
<text x="370" y="92.5" font-size="13" fill="#e03a64">Ga</text>
<text x="342" y="154.6" font-size="19.5" fill="#b0208a"><tspan font-style="italic">V</tspan></text>
<text x="356.3" y="146.6" font-size="13" fill="#b0208a">ic</text>
<text x="355.4" y="158.3" font-size="13" fill="#b0208a">Ga</text>
<text x="372" y="154.6" font-size="19.5" fill="#b0208a">Sn</text>
<text x="365.5" y="223.8" font-size="19.5" fill="#3d3a96">Sn</text>
<text x="390" y="227.5" font-size="13" fill="#3d3a96">i</text>
<text x="421.5" y="287" font-size="19.5" fill="#ee8a3a">Sn</text>
<text x="444.5" y="291.2" font-size="13" fill="#ee8a3a">Ga2</text>
<clipPath id="cc"><rect x="86.4" y="397.0" width="429.8" height="266.8"/></clipPath>
<rect x="283.2" y="397.0" width="233.0" height="266.8" fill="#f0f0f0"/>
<text x="184.6" y="427" text-anchor="middle" font-size="17.3">epilayer</text>
<text x="400.5" y="430" text-anchor="middle" font-size="17.6">substrate</text>
<g clip-path="url(#cc)">
<g fill="rgb(100,62,190)" fill-opacity="0.55" stroke="rgb(100,62,190)" stroke-opacity="0.75" stroke-width="1">
<circle cx="249.8" cy="667.5" r="2.05"/>
<circle cx="251.2" cy="659.4" r="2.05"/>
<circle cx="252.7" cy="652.1" r="2.05"/>
<circle cx="254.5" cy="643.9" r="2.05"/>
<circle cx="255.9" cy="638.9" r="2.05"/>
<circle cx="257.3" cy="634.5" r="2.05"/>
<circle cx="258.9" cy="627.5" r="2.05"/>
<circle cx="260.4" cy="622.9" r="2.05"/>
<circle cx="261.9" cy="618.3" r="2.05"/>
<circle cx="263.4" cy="610.8" r="2.05"/>
<circle cx="265.0" cy="599.6" r="2.05"/>
<circle cx="266.7" cy="587.9" r="2.05"/>
<circle cx="268.0" cy="576.4" r="2.05"/>
<circle cx="269.5" cy="563.3" r="2.05"/>
<circle cx="271.3" cy="549.7" r="2.05"/>
<circle cx="272.8" cy="536.9" r="2.05"/>
<circle cx="274.5" cy="524.7" r="2.05"/>
<circle cx="275.9" cy="513.1" r="2.05"/>
<circle cx="277.5" cy="503.9" r="2.05"/>
<circle cx="278.8" cy="495.7" r="2.05"/>
<circle cx="280.2" cy="488.3" r="2.05"/>
<circle cx="281.9" cy="483.9" r="2.05"/>
<circle cx="283.3" cy="478.6" r="2.05"/>
<circle cx="284.6" cy="474.4" r="2.05"/>
<circle cx="286.0" cy="471.0" r="2.05"/>
<circle cx="287.4" cy="468.6" r="2.05"/>
<circle cx="288.8" cy="467.0" r="2.05"/>
<circle cx="290.2" cy="464.9" r="2.05"/>
<circle cx="291.6" cy="463.7" r="2.05"/>
<circle cx="293.0" cy="463.1" r="2.05"/>
<circle cx="294.4" cy="461.8" r="2.05"/>
<circle cx="295.8" cy="461.4" r="2.05"/>
<circle cx="297.2" cy="461.2" r="2.05"/>
<circle cx="298.6" cy="460.9" r="2.05"/>
<circle cx="300.0" cy="461.0" r="2.05"/>
<circle cx="301.5" cy="460.9" r="2.05"/>
<circle cx="303.0" cy="459.6" r="2.05"/>
<circle cx="304.5" cy="460.4" r="2.05"/>
<circle cx="306.0" cy="459.5" r="2.05"/>
<circle cx="307.5" cy="459.0" r="2.05"/>
<circle cx="309.0" cy="459.3" r="2.05"/>
<circle cx="310.5" cy="459.1" r="2.05"/>
<circle cx="312.0" cy="458.5" r="2.05"/>
<circle cx="313.5" cy="458.0" r="2.05"/>
<circle cx="315.0" cy="458.0" r="2.05"/>
<circle cx="316.5" cy="457.7" r="2.05"/>
<circle cx="318.0" cy="457.8" r="2.05"/>
<circle cx="319.5" cy="457.3" r="2.05"/>
<circle cx="321.0" cy="456.9" r="2.05"/>
<circle cx="322.5" cy="457.0" r="2.05"/>
<circle cx="324.0" cy="456.4" r="2.05"/>
<circle cx="325.5" cy="456.0" r="2.05"/>
<circle cx="327.0" cy="456.3" r="2.05"/>
<circle cx="328.5" cy="456.1" r="2.05"/>
<circle cx="330.0" cy="455.7" r="2.05"/>
<circle cx="331.5" cy="455.3" r="2.05"/>
<circle cx="333.0" cy="455.4" r="2.05"/>
<circle cx="334.5" cy="454.4" r="2.05"/>
<circle cx="336.0" cy="455.2" r="2.05"/>
<circle cx="337.5" cy="455.0" r="2.05"/>
<circle cx="339.0" cy="454.1" r="2.05"/>
<circle cx="340.5" cy="454.5" r="2.05"/>
<circle cx="342.0" cy="454.1" r="2.05"/>
<circle cx="343.5" cy="454.5" r="2.05"/>
<circle cx="345.0" cy="453.6" r="2.05"/>
<circle cx="346.5" cy="453.9" r="2.05"/>
<circle cx="348.0" cy="454.3" r="2.05"/>
<circle cx="349.5" cy="454.3" r="2.05"/>
<circle cx="351.0" cy="453.2" r="2.05"/>
<circle cx="352.5" cy="453.6" r="2.05"/>
<circle cx="354.0" cy="453.8" r="2.05"/>
<circle cx="355.5" cy="453.4" r="2.05"/>
<circle cx="357.0" cy="454.0" r="2.05"/>
<circle cx="358.5" cy="453.1" r="2.05"/>
<circle cx="360.0" cy="453.5" r="2.05"/>
<circle cx="361.5" cy="453.0" r="2.05"/>
<circle cx="363.0" cy="453.6" r="2.05"/>
<circle cx="364.5" cy="453.1" r="2.05"/>
<circle cx="366.0" cy="452.9" r="2.05"/>
<circle cx="367.5" cy="452.4" r="2.05"/>
<circle cx="369.0" cy="453.4" r="2.05"/>
<circle cx="370.5" cy="453.0" r="2.05"/>
<circle cx="372.0" cy="453.0" r="2.05"/>
<circle cx="373.5" cy="453.0" r="2.05"/>
<circle cx="375.0" cy="452.7" r="2.05"/>
<circle cx="376.5" cy="452.4" r="2.05"/>
<circle cx="378.0" cy="452.3" r="2.05"/>
<circle cx="379.5" cy="452.2" r="2.05"/>
<circle cx="381.0" cy="452.8" r="2.05"/>
<circle cx="382.5" cy="451.9" r="2.05"/>
<circle cx="384.0" cy="452.2" r="2.05"/>
<circle cx="385.5" cy="452.2" r="2.05"/>
<circle cx="387.0" cy="452.3" r="2.05"/>
<circle cx="388.5" cy="452.4" r="2.05"/>
<circle cx="390.0" cy="451.8" r="2.05"/>
<circle cx="391.5" cy="451.6" r="2.05"/>
<circle cx="393.0" cy="452.0" r="2.05"/>
<circle cx="394.5" cy="452.3" r="2.05"/>
<circle cx="396.0" cy="452.2" r="2.05"/>
<circle cx="397.5" cy="451.9" r="2.05"/>
<circle cx="399.0" cy="451.7" r="2.05"/>
<circle cx="400.5" cy="451.9" r="2.05"/>
<circle cx="402.0" cy="451.7" r="2.05"/>
<circle cx="403.5" cy="452.0" r="2.05"/>
<circle cx="405.0" cy="451.5" r="2.05"/>
<circle cx="406.5" cy="451.7" r="2.05"/>
<circle cx="408.0" cy="451.6" r="2.05"/>
<circle cx="409.5" cy="451.8" r="2.05"/>
<circle cx="411.0" cy="451.6" r="2.05"/>
<circle cx="412.5" cy="452.3" r="2.05"/>
<circle cx="414.0" cy="452.0" r="2.05"/>
<circle cx="415.5" cy="451.9" r="2.05"/>
<circle cx="417.0" cy="450.8" r="2.05"/>
<circle cx="418.5" cy="451.3" r="2.05"/>
<circle cx="420.0" cy="451.2" r="2.05"/>
<circle cx="421.5" cy="451.5" r="2.05"/>
<circle cx="423.0" cy="450.7" r="2.05"/>
<circle cx="424.5" cy="451.7" r="2.05"/>
<circle cx="426.0" cy="451.6" r="2.05"/>
<circle cx="427.5" cy="450.9" r="2.05"/>
<circle cx="429.0" cy="450.9" r="2.05"/>
<circle cx="430.5" cy="450.9" r="2.05"/>
<circle cx="432.0" cy="451.2" r="2.05"/>
<circle cx="433.5" cy="451.3" r="2.05"/>
<circle cx="435.0" cy="451.7" r="2.05"/>
<circle cx="436.5" cy="451.0" r="2.05"/>
<circle cx="438.0" cy="451.3" r="2.05"/>
<circle cx="439.5" cy="451.1" r="2.05"/>
<circle cx="441.0" cy="451.5" r="2.05"/>
<circle cx="442.5" cy="451.2" r="2.05"/>
<circle cx="444.0" cy="451.3" r="2.05"/>
<circle cx="445.5" cy="450.6" r="2.05"/>
<circle cx="447.0" cy="450.8" r="2.05"/>
<circle cx="448.5" cy="450.6" r="2.05"/>
<circle cx="450.0" cy="451.3" r="2.05"/>
<circle cx="451.5" cy="451.0" r="2.05"/>
<circle cx="453.0" cy="450.7" r="2.05"/>
<circle cx="454.5" cy="450.6" r="2.05"/>
<circle cx="456.0" cy="450.9" r="2.05"/>
<circle cx="457.5" cy="450.5" r="2.05"/>
<circle cx="459.0" cy="450.4" r="2.05"/>
<circle cx="460.5" cy="450.8" r="2.05"/>
<circle cx="462.0" cy="451.4" r="2.05"/>
<circle cx="463.5" cy="450.6" r="2.05"/>
<circle cx="465.0" cy="450.5" r="2.05"/>
<circle cx="466.5" cy="450.3" r="2.05"/>
<circle cx="468.0" cy="450.2" r="2.05"/>
<circle cx="469.5" cy="450.8" r="2.05"/>
<circle cx="471.0" cy="450.9" r="2.05"/>
<circle cx="472.5" cy="450.6" r="2.05"/>
<circle cx="474.0" cy="450.7" r="2.05"/>
<circle cx="475.5" cy="450.6" r="2.05"/>
<circle cx="477.0" cy="450.6" r="2.05"/>
<circle cx="478.5" cy="450.1" r="2.05"/>
<circle cx="480.0" cy="450.4" r="2.05"/>
<circle cx="481.5" cy="450.5" r="2.05"/>
<circle cx="483.0" cy="450.3" r="2.05"/>
<circle cx="484.5" cy="450.3" r="2.05"/>
<circle cx="486.0" cy="450.2" r="2.05"/>
<circle cx="487.5" cy="450.4" r="2.05"/>
<circle cx="489.0" cy="450.7" r="2.05"/>
<circle cx="490.5" cy="450.3" r="2.05"/>
<circle cx="492.0" cy="450.4" r="2.05"/>
<circle cx="493.5" cy="450.6" r="2.05"/>
<circle cx="495.0" cy="450.6" r="2.05"/>
<circle cx="496.5" cy="450.9" r="2.05"/>
<circle cx="498.0" cy="449.7" r="2.05"/>
<circle cx="499.5" cy="450.6" r="2.05"/>
<circle cx="501.0" cy="450.2" r="2.05"/>
<circle cx="502.5" cy="450.4" r="2.05"/>
<circle cx="504.0" cy="450.6" r="2.05"/>
<circle cx="505.5" cy="450.6" r="2.05"/>
<circle cx="507.0" cy="450.6" r="2.05"/>
<circle cx="508.5" cy="450.3" r="2.05"/>
<circle cx="510.0" cy="450.7" r="2.05"/>
<circle cx="511.5" cy="450.2" r="2.05"/>
<circle cx="513.0" cy="450.2" r="2.05"/>
<circle cx="514.5" cy="450.5" r="2.05"/>
<circle cx="205.7" cy="634.5" r="2.05"/>
<circle cx="206.6" cy="656.8" r="2.05"/>
<circle cx="209.5" cy="656.9" r="2.05"/>
<circle cx="212.3" cy="645.6" r="2.05"/>
<circle cx="213.6" cy="651.3" r="2.05"/>
<circle cx="217.2" cy="660.5" r="2.05"/>
<circle cx="223.2" cy="636.1" r="2.05"/>
<circle cx="224.5" cy="652.3" r="2.05"/>
<circle cx="227.6" cy="649.4" r="2.05"/>
<circle cx="229.0" cy="660.2" r="2.05"/>
<circle cx="231.9" cy="649.2" r="2.05"/>
<circle cx="235.3" cy="643.1" r="2.05"/>
<circle cx="236.5" cy="630.3" r="2.05"/>
<circle cx="239.4" cy="654.3" r="2.05"/>
<circle cx="245.7" cy="642.5" r="2.05"/>
<circle cx="249.8" cy="661.9" r="2.05"/>
</g>
<g fill="rgb(110,30,155)" fill-opacity="0.55" stroke="rgb(110,30,155)" stroke-opacity="0.75" stroke-width="1">
<circle cx="239.8" cy="649.5" r="2.05"/>
<circle cx="241.3" cy="646.9" r="2.05"/>
<circle cx="242.8" cy="642.6" r="2.05"/>
<circle cx="244.3" cy="636.3" r="2.05"/>
<circle cx="245.8" cy="625.3" r="1.85"/>
<circle cx="247.3" cy="611.1" r="1.85"/>
<circle cx="248.8" cy="588.3" r="1.85"/>
<circle cx="250.3" cy="564.7" r="1.85"/>
<circle cx="251.8" cy="553.2" r="1.85"/>
<circle cx="253.3" cy="534.5" r="1.85"/>
<circle cx="254.8" cy="525.8" r="1.85"/>
<circle cx="256.3" cy="518.5" r="1.85"/>
<circle cx="257.8" cy="514.8" r="1.85"/>
<circle cx="259.3" cy="510.9" r="1.85"/>
<circle cx="260.8" cy="508.0" r="1.85"/>
<circle cx="262.3" cy="504.0" r="1.85"/>
<circle cx="263.8" cy="503.1" r="1.85"/>
<circle cx="265.3" cy="499.6" r="1.85"/>
<circle cx="266.8" cy="497.4" r="1.85"/>
<circle cx="268.3" cy="494.7" r="1.85"/>
<circle cx="269.8" cy="492.9" r="1.85"/>
<circle cx="271.3" cy="491.6" r="1.85"/>
<circle cx="272.8" cy="489.6" r="1.85"/>
<circle cx="274.3" cy="487.3" r="1.85"/>
<circle cx="275.8" cy="485.4" r="1.85"/>
<circle cx="277.3" cy="483.2" r="1.85"/>
<circle cx="278.8" cy="481.1" r="1.85"/>
<circle cx="280.3" cy="479.9" r="1.85"/>
<circle cx="281.8" cy="478.3" r="1.85"/>
<circle cx="283.3" cy="476.4" r="1.85"/>
<circle cx="284.8" cy="475.2" r="1.85"/>
<circle cx="286.3" cy="474.0" r="1.85"/>
<circle cx="287.8" cy="472.4" r="1.85"/>
<circle cx="289.3" cy="471.0" r="1.85"/>
<circle cx="290.8" cy="470.1" r="1.85"/>
<circle cx="292.3" cy="469.1" r="1.85"/>
<circle cx="293.8" cy="467.1" r="1.85"/>
<circle cx="295.3" cy="465.7" r="1.85"/>
<circle cx="296.8" cy="464.5" r="1.85"/>
<circle cx="298.3" cy="463.9" r="1.85"/>
<circle cx="299.8" cy="462.1" r="1.85"/>
<circle cx="301.3" cy="462.2" r="1.85"/>
<circle cx="302.8" cy="462.0" r="1.85"/>
<circle cx="304.3" cy="461.0" r="1.85"/>
<circle cx="305.8" cy="461.4" r="1.85"/>
<circle cx="307.3" cy="460.7" r="1.85"/>
<circle cx="308.8" cy="460.1" r="1.85"/>
<circle cx="310.3" cy="460.0" r="1.85"/>
<circle cx="311.8" cy="459.1" r="1.85"/>
<circle cx="313.3" cy="459.1" r="1.85"/>
<circle cx="314.8" cy="459.5" r="1.85"/>
<circle cx="316.3" cy="458.4" r="1.85"/>
<circle cx="317.8" cy="458.9" r="1.85"/>
<circle cx="319.3" cy="458.1" r="1.85"/>
<circle cx="320.8" cy="458.1" r="1.85"/>
<circle cx="322.3" cy="457.5" r="1.85"/>
<circle cx="323.8" cy="456.5" r="1.85"/>
<circle cx="325.3" cy="456.7" r="1.85"/>
<circle cx="326.8" cy="456.7" r="1.85"/>
<circle cx="328.3" cy="456.0" r="1.85"/>
<circle cx="329.8" cy="455.7" r="1.85"/>
<circle cx="331.3" cy="455.9" r="1.85"/>
<circle cx="332.8" cy="455.4" r="1.85"/>
<circle cx="334.3" cy="454.9" r="1.85"/>
<circle cx="335.8" cy="455.0" r="1.85"/>
<circle cx="337.3" cy="455.3" r="1.85"/>
<circle cx="338.8" cy="454.7" r="1.85"/>
<circle cx="340.3" cy="455.0" r="1.85"/>
<circle cx="341.8" cy="455.0" r="1.85"/>
<circle cx="343.3" cy="454.4" r="1.85"/>
<circle cx="344.8" cy="453.9" r="1.85"/>
<circle cx="346.3" cy="453.7" r="1.85"/>
<circle cx="347.8" cy="454.0" r="1.85"/>
<circle cx="349.3" cy="454.2" r="1.85"/>
<circle cx="350.8" cy="453.9" r="1.85"/>
<circle cx="352.3" cy="453.9" r="1.85"/>
<circle cx="353.8" cy="453.5" r="1.85"/>
<circle cx="355.3" cy="453.6" r="1.85"/>
<circle cx="356.8" cy="453.3" r="1.85"/>
<circle cx="358.3" cy="453.3" r="1.85"/>
<circle cx="359.8" cy="452.9" r="1.85"/>
<circle cx="361.3" cy="452.7" r="1.85"/>
<circle cx="362.8" cy="453.0" r="1.85"/>
<circle cx="364.3" cy="452.7" r="1.85"/>
<circle cx="365.8" cy="452.7" r="1.85"/>
<circle cx="367.3" cy="453.1" r="1.85"/>
<circle cx="368.8" cy="452.8" r="1.85"/>
<circle cx="370.3" cy="453.7" r="1.85"/>
<circle cx="371.8" cy="453.0" r="1.85"/>
<circle cx="373.3" cy="452.5" r="1.85"/>
<circle cx="374.8" cy="452.8" r="1.85"/>
<circle cx="376.3" cy="452.6" r="1.85"/>
<circle cx="377.8" cy="452.3" r="1.85"/>
<circle cx="379.3" cy="452.7" r="1.85"/>
<circle cx="380.8" cy="452.1" r="1.85"/>
<circle cx="382.3" cy="451.4" r="1.85"/>
<circle cx="383.8" cy="452.5" r="1.85"/>
<circle cx="385.3" cy="452.0" r="1.85"/>
<circle cx="386.8" cy="452.6" r="1.85"/>
<circle cx="388.3" cy="452.0" r="1.85"/>
<circle cx="389.8" cy="451.8" r="1.85"/>
<circle cx="391.3" cy="452.5" r="1.85"/>
<circle cx="392.8" cy="451.7" r="1.85"/>
<circle cx="394.3" cy="452.1" r="1.85"/>
<circle cx="395.8" cy="452.4" r="1.85"/>
<circle cx="397.3" cy="452.0" r="1.85"/>
<circle cx="398.8" cy="451.9" r="1.85"/>
<circle cx="400.3" cy="451.9" r="1.85"/>
<circle cx="401.8" cy="452.1" r="1.85"/>
<circle cx="403.3" cy="451.6" r="1.85"/>
<circle cx="404.8" cy="451.9" r="1.85"/>
<circle cx="406.3" cy="451.9" r="1.85"/>
<circle cx="407.8" cy="452.4" r="1.85"/>
<circle cx="409.3" cy="451.5" r="1.85"/>
<circle cx="410.8" cy="451.3" r="1.85"/>
<circle cx="412.3" cy="451.8" r="1.85"/>
<circle cx="413.8" cy="451.4" r="1.85"/>
<circle cx="415.3" cy="451.6" r="1.85"/>
<circle cx="416.8" cy="451.5" r="1.85"/>
<circle cx="418.3" cy="451.8" r="1.85"/>
<circle cx="419.8" cy="451.2" r="1.85"/>
<circle cx="421.3" cy="451.3" r="1.85"/>
<circle cx="422.8" cy="450.6" r="1.85"/>
<circle cx="424.3" cy="451.0" r="1.85"/>
<circle cx="425.8" cy="451.7" r="1.85"/>
<circle cx="427.3" cy="451.0" r="1.85"/>
<circle cx="428.8" cy="451.0" r="1.85"/>
<circle cx="430.3" cy="450.8" r="1.85"/>
<circle cx="431.8" cy="451.3" r="1.85"/>
<circle cx="433.3" cy="451.1" r="1.85"/>
<circle cx="434.8" cy="450.7" r="1.85"/>
<circle cx="436.3" cy="451.2" r="1.85"/>
<circle cx="437.8" cy="451.1" r="1.85"/>
<circle cx="439.3" cy="451.2" r="1.85"/>
<circle cx="440.8" cy="450.8" r="1.85"/>
<circle cx="442.3" cy="451.4" r="1.85"/>
<circle cx="443.8" cy="451.0" r="1.85"/>
<circle cx="445.3" cy="450.8" r="1.85"/>
<circle cx="446.8" cy="450.7" r="1.85"/>
<circle cx="448.3" cy="450.7" r="1.85"/>
<circle cx="449.8" cy="451.0" r="1.85"/>
<circle cx="451.3" cy="450.7" r="1.85"/>
<circle cx="452.8" cy="451.1" r="1.85"/>
<circle cx="454.3" cy="450.9" r="1.85"/>
<circle cx="455.8" cy="451.1" r="1.85"/>
<circle cx="457.3" cy="450.9" r="1.85"/>
<circle cx="458.8" cy="450.6" r="1.85"/>
<circle cx="460.3" cy="450.1" r="1.85"/>
<circle cx="461.8" cy="450.7" r="1.85"/>
<circle cx="463.3" cy="450.8" r="1.85"/>
<circle cx="464.8" cy="450.6" r="1.85"/>
<circle cx="466.3" cy="450.7" r="1.85"/>
<circle cx="467.8" cy="450.4" r="1.85"/>
<circle cx="469.3" cy="450.4" r="1.85"/>
<circle cx="470.8" cy="450.2" r="1.85"/>
<circle cx="472.3" cy="450.9" r="1.85"/>
<circle cx="473.8" cy="450.5" r="1.85"/>
<circle cx="475.3" cy="450.3" r="1.85"/>
<circle cx="476.8" cy="450.0" r="1.85"/>
<circle cx="478.3" cy="450.4" r="1.85"/>
<circle cx="479.8" cy="450.8" r="1.85"/>
<circle cx="481.3" cy="450.5" r="1.85"/>
<circle cx="482.8" cy="450.2" r="1.85"/>
<circle cx="484.3" cy="450.8" r="1.85"/>
<circle cx="485.8" cy="450.8" r="1.85"/>
<circle cx="487.3" cy="450.6" r="1.85"/>
<circle cx="488.8" cy="450.5" r="1.85"/>
<circle cx="490.3" cy="450.6" r="1.85"/>
<circle cx="491.8" cy="450.4" r="1.85"/>
<circle cx="493.3" cy="450.5" r="1.85"/>
<circle cx="494.8" cy="450.0" r="1.85"/>
<circle cx="496.3" cy="450.7" r="1.85"/>
<circle cx="497.8" cy="450.3" r="1.85"/>
<circle cx="499.3" cy="450.8" r="1.85"/>
<circle cx="500.8" cy="449.6" r="1.85"/>
<circle cx="502.3" cy="450.4" r="1.85"/>
<circle cx="503.8" cy="450.4" r="1.85"/>
<circle cx="505.3" cy="450.0" r="1.85"/>
<circle cx="506.8" cy="450.3" r="1.85"/>
<circle cx="508.3" cy="450.3" r="1.85"/>
<circle cx="509.8" cy="450.3" r="1.85"/>
<circle cx="511.3" cy="449.9" r="1.85"/>
<circle cx="512.8" cy="450.0" r="1.85"/>
<circle cx="514.3" cy="450.3" r="1.85"/>
<circle cx="515.8" cy="450.4" r="1.85"/>
<circle cx="175.1" cy="662.0" r="2.05"/>
<circle cx="176.1" cy="645.5" r="2.05"/>
<circle cx="181.1" cy="661.8" r="2.05"/>
<circle cx="182.2" cy="652.9" r="2.05"/>
<circle cx="184.2" cy="633.3" r="2.05"/>
<circle cx="186.9" cy="652.4" r="2.05"/>
<circle cx="188.6" cy="655.8" r="2.05"/>
<circle cx="190.3" cy="662.8" r="2.05"/>
<circle cx="193.4" cy="654.5" r="2.05"/>
<circle cx="194.5" cy="641.5" r="2.05"/>
<circle cx="195.9" cy="648.9" r="2.05"/>
<circle cx="197.3" cy="651.1" r="2.05"/>
<circle cx="199.5" cy="661.3" r="2.05"/>
<circle cx="200.5" cy="661.6" r="2.05"/>
<circle cx="205.2" cy="645.2" r="2.05"/>
<circle cx="206.5" cy="659.7" r="2.05"/>
<circle cx="208.3" cy="648.8" r="2.05"/>
<circle cx="211.0" cy="653.1" r="2.05"/>
<circle cx="214.0" cy="661.5" r="2.05"/>
<circle cx="218.7" cy="640.1" r="2.05"/>
<circle cx="220.2" cy="640.9" r="2.05"/>
<circle cx="223.5" cy="662.1" r="2.05"/>
<circle cx="224.6" cy="654.4" r="2.05"/>
<circle cx="227.6" cy="658.7" r="2.05"/>
<circle cx="229.0" cy="660.6" r="2.05"/>
<circle cx="232.0" cy="656.4" r="2.05"/>
<circle cx="233.1" cy="651.9" r="2.05"/>
<circle cx="235.2" cy="662.6" r="2.05"/>
<circle cx="236.2" cy="654.8" r="2.05"/>
<circle cx="238.1" cy="638.9" r="2.05"/>
</g>
<g fill="rgb(165,65,155)" fill-opacity="0.55" stroke="rgb(165,65,155)" stroke-opacity="0.75" stroke-width="1">
<circle cx="218.4" cy="646.9" r="2.05"/>
<circle cx="219.9" cy="643.6" r="2.05"/>
<circle cx="221.4" cy="639.4" r="2.05"/>
<circle cx="222.9" cy="630.7" r="2.05"/>
<circle cx="224.4" cy="619.7" r="1.85"/>
<circle cx="225.9" cy="605.4" r="1.85"/>
<circle cx="227.4" cy="587.4" r="1.85"/>
<circle cx="228.9" cy="570.2" r="1.85"/>
<circle cx="230.4" cy="553.9" r="1.85"/>
<circle cx="231.9" cy="539.8" r="1.85"/>
<circle cx="233.4" cy="527.6" r="1.85"/>
<circle cx="234.9" cy="521.8" r="1.85"/>
<circle cx="236.4" cy="518.5" r="1.85"/>
<circle cx="237.9" cy="513.8" r="1.85"/>
<circle cx="239.4" cy="511.8" r="1.85"/>
<circle cx="240.9" cy="507.0" r="1.85"/>
<circle cx="242.4" cy="505.0" r="1.85"/>
<circle cx="243.9" cy="501.5" r="1.85"/>
<circle cx="245.4" cy="498.9" r="1.85"/>
<circle cx="246.9" cy="497.2" r="1.85"/>
<circle cx="248.4" cy="496.2" r="1.85"/>
<circle cx="249.9" cy="493.7" r="1.85"/>
<circle cx="251.4" cy="492.5" r="1.85"/>
<circle cx="252.9" cy="491.1" r="1.85"/>
<circle cx="254.4" cy="489.0" r="1.85"/>
<circle cx="255.9" cy="489.5" r="1.85"/>
<circle cx="257.4" cy="487.8" r="1.85"/>
<circle cx="258.9" cy="486.3" r="1.85"/>
<circle cx="260.4" cy="486.0" r="1.85"/>
<circle cx="261.9" cy="483.7" r="1.85"/>
<circle cx="263.4" cy="483.2" r="1.85"/>
<circle cx="264.9" cy="483.4" r="1.85"/>
<circle cx="266.4" cy="482.1" r="1.85"/>
<circle cx="267.9" cy="479.3" r="1.85"/>
<circle cx="269.4" cy="477.8" r="1.85"/>
<circle cx="270.9" cy="478.4" r="1.85"/>
<circle cx="272.4" cy="478.9" r="1.85"/>
<circle cx="273.9" cy="477.3" r="1.85"/>
<circle cx="275.4" cy="476.8" r="1.85"/>
<circle cx="276.9" cy="476.8" r="1.85"/>
<circle cx="278.4" cy="475.3" r="1.85"/>
<circle cx="279.9" cy="475.3" r="1.85"/>
<circle cx="281.4" cy="475.0" r="1.85"/>
<circle cx="282.9" cy="474.0" r="1.85"/>
<circle cx="284.4" cy="473.0" r="1.85"/>
<circle cx="285.9" cy="471.9" r="1.85"/>
<circle cx="287.4" cy="471.4" r="1.85"/>
<circle cx="288.9" cy="470.2" r="1.85"/>
<circle cx="290.4" cy="470.0" r="1.85"/>
<circle cx="291.9" cy="469.5" r="1.85"/>
<circle cx="293.4" cy="467.7" r="1.85"/>
<circle cx="294.9" cy="466.4" r="1.85"/>
<circle cx="296.4" cy="466.3" r="1.85"/>
<circle cx="297.9" cy="465.9" r="1.85"/>
<circle cx="299.4" cy="465.5" r="1.85"/>
<circle cx="300.9" cy="465.1" r="1.85"/>
<circle cx="302.4" cy="464.1" r="1.85"/>
<circle cx="303.9" cy="463.7" r="1.85"/>
<circle cx="305.4" cy="463.9" r="1.85"/>
<circle cx="306.9" cy="462.8" r="1.85"/>
<circle cx="308.4" cy="463.1" r="1.85"/>
<circle cx="309.9" cy="462.4" r="1.85"/>
<circle cx="311.4" cy="462.3" r="1.85"/>
<circle cx="312.9" cy="462.0" r="1.85"/>
<circle cx="314.4" cy="461.7" r="1.85"/>
<circle cx="315.9" cy="461.3" r="1.85"/>
<circle cx="317.4" cy="460.5" r="1.85"/>
<circle cx="318.9" cy="460.6" r="1.85"/>
<circle cx="320.4" cy="460.2" r="1.85"/>
<circle cx="321.9" cy="460.0" r="1.85"/>
<circle cx="323.4" cy="459.9" r="1.85"/>
<circle cx="324.9" cy="459.2" r="1.85"/>
<circle cx="326.4" cy="458.7" r="1.85"/>
<circle cx="327.9" cy="458.5" r="1.85"/>
<circle cx="329.4" cy="458.3" r="1.85"/>
<circle cx="330.9" cy="458.4" r="1.85"/>
<circle cx="332.4" cy="457.6" r="1.85"/>
<circle cx="333.9" cy="458.0" r="1.85"/>
<circle cx="335.4" cy="457.5" r="1.85"/>
<circle cx="336.9" cy="457.2" r="1.85"/>
<circle cx="338.4" cy="456.7" r="1.85"/>
<circle cx="339.9" cy="457.0" r="1.85"/>
<circle cx="341.4" cy="457.0" r="1.85"/>
<circle cx="342.9" cy="456.1" r="1.85"/>
<circle cx="344.4" cy="456.8" r="1.85"/>
<circle cx="345.9" cy="456.8" r="1.85"/>
<circle cx="347.4" cy="456.3" r="1.85"/>
<circle cx="348.9" cy="456.2" r="1.85"/>
<circle cx="350.4" cy="456.7" r="1.85"/>
<circle cx="351.9" cy="456.2" r="1.85"/>
<circle cx="353.4" cy="455.5" r="1.85"/>
<circle cx="354.9" cy="455.7" r="1.85"/>
<circle cx="356.4" cy="455.5" r="1.85"/>
<circle cx="357.9" cy="455.4" r="1.85"/>
<circle cx="359.4" cy="454.7" r="1.85"/>
<circle cx="360.9" cy="455.5" r="1.85"/>
<circle cx="362.4" cy="455.0" r="1.85"/>
<circle cx="363.9" cy="455.2" r="1.85"/>
<circle cx="365.4" cy="455.0" r="1.85"/>
<circle cx="366.9" cy="455.2" r="1.85"/>
<circle cx="368.4" cy="454.8" r="1.85"/>
<circle cx="369.9" cy="454.6" r="1.85"/>
<circle cx="371.4" cy="454.9" r="1.85"/>
<circle cx="372.9" cy="455.1" r="1.85"/>
<circle cx="374.4" cy="454.5" r="1.85"/>
<circle cx="375.9" cy="454.9" r="1.85"/>
<circle cx="377.4" cy="454.5" r="1.85"/>
<circle cx="378.9" cy="454.2" r="1.85"/>
<circle cx="380.4" cy="454.8" r="1.85"/>
<circle cx="381.9" cy="454.0" r="1.85"/>
<circle cx="383.4" cy="454.5" r="1.85"/>
<circle cx="384.9" cy="454.0" r="1.85"/>
<circle cx="386.4" cy="454.2" r="1.85"/>
<circle cx="387.9" cy="453.7" r="1.85"/>
<circle cx="389.4" cy="453.7" r="1.85"/>
<circle cx="390.9" cy="454.3" r="1.85"/>
<circle cx="392.4" cy="454.0" r="1.85"/>
<circle cx="393.9" cy="453.9" r="1.85"/>
<circle cx="395.4" cy="453.7" r="1.85"/>
<circle cx="396.9" cy="453.9" r="1.85"/>
<circle cx="398.4" cy="453.3" r="1.85"/>
<circle cx="399.9" cy="453.4" r="1.85"/>
<circle cx="401.4" cy="453.6" r="1.85"/>
<circle cx="402.9" cy="453.4" r="1.85"/>
<circle cx="404.4" cy="453.3" r="1.85"/>
<circle cx="405.9" cy="453.5" r="1.85"/>
<circle cx="407.4" cy="453.4" r="1.85"/>
<circle cx="408.9" cy="453.3" r="1.85"/>
<circle cx="410.4" cy="453.9" r="1.85"/>
<circle cx="411.9" cy="453.6" r="1.85"/>
<circle cx="413.4" cy="453.6" r="1.85"/>
<circle cx="414.9" cy="453.2" r="1.85"/>
<circle cx="416.4" cy="453.0" r="1.85"/>
<circle cx="417.9" cy="452.7" r="1.85"/>
<circle cx="419.4" cy="453.0" r="1.85"/>
<circle cx="420.9" cy="452.4" r="1.85"/>
<circle cx="422.4" cy="452.8" r="1.85"/>
<circle cx="423.9" cy="453.2" r="1.85"/>
<circle cx="425.4" cy="453.4" r="1.85"/>
<circle cx="426.9" cy="453.2" r="1.85"/>
<circle cx="428.4" cy="452.6" r="1.85"/>
<circle cx="429.9" cy="453.0" r="1.85"/>
<circle cx="431.4" cy="452.5" r="1.85"/>
<circle cx="432.9" cy="453.0" r="1.85"/>
<circle cx="434.4" cy="452.7" r="1.85"/>
<circle cx="435.9" cy="452.9" r="1.85"/>
<circle cx="437.4" cy="453.4" r="1.85"/>
<circle cx="438.9" cy="452.9" r="1.85"/>
<circle cx="440.4" cy="453.3" r="1.85"/>
<circle cx="441.9" cy="452.6" r="1.85"/>
<circle cx="443.4" cy="452.4" r="1.85"/>
<circle cx="444.9" cy="452.9" r="1.85"/>
<circle cx="446.4" cy="452.9" r="1.85"/>
<circle cx="447.9" cy="452.2" r="1.85"/>
<circle cx="449.4" cy="452.4" r="1.85"/>
<circle cx="450.9" cy="451.9" r="1.85"/>
<circle cx="452.4" cy="452.2" r="1.85"/>
<circle cx="453.9" cy="452.5" r="1.85"/>
<circle cx="455.4" cy="452.2" r="1.85"/>
<circle cx="456.9" cy="452.0" r="1.85"/>
<circle cx="458.4" cy="451.8" r="1.85"/>
<circle cx="459.9" cy="452.3" r="1.85"/>
<circle cx="461.4" cy="452.4" r="1.85"/>
<circle cx="462.9" cy="452.3" r="1.85"/>
<circle cx="464.4" cy="452.2" r="1.85"/>
<circle cx="465.9" cy="451.7" r="1.85"/>
<circle cx="467.4" cy="452.6" r="1.85"/>
<circle cx="468.9" cy="452.0" r="1.85"/>
<circle cx="470.4" cy="451.9" r="1.85"/>
<circle cx="471.9" cy="452.2" r="1.85"/>
<circle cx="473.4" cy="451.3" r="1.85"/>
<circle cx="474.9" cy="451.9" r="1.85"/>
<circle cx="476.4" cy="451.9" r="1.85"/>
<circle cx="477.9" cy="452.0" r="1.85"/>
<circle cx="479.4" cy="452.3" r="1.85"/>
<circle cx="480.9" cy="452.0" r="1.85"/>
<circle cx="482.4" cy="451.3" r="1.85"/>
<circle cx="483.9" cy="451.7" r="1.85"/>
<circle cx="485.4" cy="451.8" r="1.85"/>
<circle cx="486.9" cy="451.8" r="1.85"/>
<circle cx="488.4" cy="451.3" r="1.85"/>
<circle cx="489.9" cy="451.2" r="1.85"/>
<circle cx="491.4" cy="451.8" r="1.85"/>
<circle cx="492.9" cy="451.8" r="1.85"/>
<circle cx="494.4" cy="451.6" r="1.85"/>
<circle cx="495.9" cy="451.1" r="1.85"/>
<circle cx="497.4" cy="452.1" r="1.85"/>
<circle cx="498.9" cy="450.7" r="1.85"/>
<circle cx="500.4" cy="451.4" r="1.85"/>
<circle cx="501.9" cy="452.2" r="1.85"/>
<circle cx="503.4" cy="451.5" r="1.85"/>
<circle cx="504.9" cy="451.6" r="1.85"/>
<circle cx="506.4" cy="451.1" r="1.85"/>
<circle cx="507.9" cy="451.8" r="1.85"/>
<circle cx="509.4" cy="451.0" r="1.85"/>
<circle cx="510.9" cy="451.5" r="1.85"/>
<circle cx="512.4" cy="451.4" r="1.85"/>
<circle cx="513.9" cy="451.0" r="1.85"/>
<circle cx="515.4" cy="451.6" r="1.85"/>
<circle cx="150.0" cy="651.7" r="2.05"/>
<circle cx="152.9" cy="647.7" r="2.05"/>
<circle cx="156.2" cy="657.1" r="2.05"/>
<circle cx="157.5" cy="656.4" r="2.05"/>
<circle cx="160.5" cy="645.8" r="2.05"/>
<circle cx="162.0" cy="644.8" r="2.05"/>
<circle cx="164.9" cy="638.0" r="2.05"/>
<circle cx="167.0" cy="661.1" r="2.05"/>
<circle cx="168.0" cy="652.2" r="2.05"/>
<circle cx="171.0" cy="632.9" r="2.05"/>
<circle cx="174.5" cy="654.3" r="2.05"/>
<circle cx="180.6" cy="659.1" r="2.05"/>
<circle cx="182.9" cy="653.1" r="2.05"/>
<circle cx="184.7" cy="661.2" r="2.05"/>
<circle cx="185.6" cy="653.1" r="2.05"/>
<circle cx="188.5" cy="644.8" r="2.05"/>
<circle cx="190.7" cy="662.9" r="2.05"/>
<circle cx="192.1" cy="654.8" r="2.05"/>
<circle cx="192.9" cy="662.5" r="2.05"/>
<circle cx="194.5" cy="649.9" r="2.05"/>
<circle cx="197.9" cy="658.9" r="2.05"/>
<circle cx="199.3" cy="643.6" r="2.05"/>
<circle cx="201.1" cy="651.3" r="2.05"/>
<circle cx="202.8" cy="651.2" r="2.05"/>
<circle cx="205.6" cy="645.4" r="2.05"/>
<circle cx="208.8" cy="644.1" r="2.05"/>
<circle cx="210.5" cy="659.5" r="2.05"/>
<circle cx="211.0" cy="637.1" r="2.05"/>
<circle cx="212.7" cy="661.2" r="2.05"/>
<circle cx="214.4" cy="635.8" r="2.05"/>
<circle cx="216.2" cy="638.2" r="2.05"/>
<circle cx="217.3" cy="637.8" r="2.05"/>
</g>
<g fill="rgb(222,125,155)" fill-opacity="0.55" stroke="rgb(222,125,155)" stroke-opacity="0.75" stroke-width="1">
<circle cx="183.8" cy="647.5" r="2.05"/>
<circle cx="185.3" cy="647.2" r="2.05"/>
<circle cx="186.8" cy="644.2" r="2.05"/>
<circle cx="188.3" cy="637.4" r="2.05"/>
<circle cx="189.8" cy="624.5" r="1.85"/>
<circle cx="191.3" cy="607.3" r="1.85"/>
<circle cx="192.8" cy="589.3" r="1.85"/>
<circle cx="194.3" cy="570.6" r="1.85"/>
<circle cx="195.8" cy="553.9" r="1.85"/>
<circle cx="197.3" cy="540.3" r="1.85"/>
<circle cx="198.8" cy="529.7" r="1.85"/>
<circle cx="200.3" cy="523.0" r="1.85"/>
<circle cx="201.8" cy="516.8" r="1.85"/>
<circle cx="203.3" cy="513.7" r="1.85"/>
<circle cx="204.8" cy="509.3" r="1.85"/>
<circle cx="206.3" cy="506.6" r="1.85"/>
<circle cx="207.8" cy="504.7" r="1.85"/>
<circle cx="209.3" cy="502.9" r="1.85"/>
<circle cx="210.8" cy="499.8" r="1.85"/>
<circle cx="212.3" cy="498.7" r="1.85"/>
<circle cx="213.8" cy="497.6" r="1.85"/>
<circle cx="215.3" cy="496.2" r="1.85"/>
<circle cx="216.8" cy="494.3" r="1.85"/>
<circle cx="218.3" cy="493.7" r="1.85"/>
<circle cx="219.8" cy="492.3" r="1.85"/>
<circle cx="221.3" cy="492.3" r="1.85"/>
<circle cx="222.8" cy="490.7" r="1.85"/>
<circle cx="224.3" cy="488.6" r="1.85"/>
<circle cx="225.8" cy="487.2" r="1.85"/>
<circle cx="227.3" cy="487.8" r="1.85"/>
<circle cx="228.8" cy="487.8" r="1.85"/>
<circle cx="230.3" cy="486.5" r="1.85"/>
<circle cx="231.8" cy="486.2" r="1.85"/>
<circle cx="233.3" cy="484.7" r="1.85"/>
<circle cx="234.8" cy="483.5" r="1.85"/>
<circle cx="236.3" cy="484.1" r="1.85"/>
<circle cx="237.8" cy="483.1" r="1.85"/>
<circle cx="239.3" cy="482.8" r="1.85"/>
<circle cx="240.8" cy="480.9" r="1.85"/>
<circle cx="242.3" cy="481.3" r="1.85"/>
<circle cx="243.8" cy="480.2" r="1.85"/>
<circle cx="245.3" cy="480.5" r="1.85"/>
<circle cx="246.8" cy="479.2" r="1.85"/>
<circle cx="248.3" cy="478.7" r="1.85"/>
<circle cx="249.8" cy="478.3" r="1.85"/>
<circle cx="251.3" cy="479.1" r="1.85"/>
<circle cx="252.8" cy="478.0" r="1.85"/>
<circle cx="254.3" cy="477.2" r="1.85"/>
<circle cx="255.8" cy="476.7" r="1.85"/>
<circle cx="257.3" cy="476.3" r="1.85"/>
<circle cx="258.8" cy="477.5" r="1.85"/>
<circle cx="260.3" cy="475.3" r="1.85"/>
<circle cx="261.8" cy="475.5" r="1.85"/>
<circle cx="263.3" cy="476.1" r="1.85"/>
<circle cx="264.8" cy="476.2" r="1.85"/>
<circle cx="266.3" cy="475.1" r="1.85"/>
<circle cx="267.8" cy="475.4" r="1.85"/>
<circle cx="269.3" cy="475.2" r="1.85"/>
<circle cx="270.8" cy="475.0" r="1.85"/>
<circle cx="272.3" cy="474.1" r="1.85"/>
<circle cx="273.8" cy="474.7" r="1.85"/>
<circle cx="275.3" cy="473.4" r="1.85"/>
<circle cx="276.8" cy="473.7" r="1.85"/>
<circle cx="278.3" cy="471.5" r="1.85"/>
<circle cx="279.8" cy="472.0" r="1.85"/>
<circle cx="281.3" cy="470.0" r="1.85"/>
<circle cx="282.8" cy="469.1" r="1.85"/>
<circle cx="284.3" cy="469.7" r="1.85"/>
<circle cx="285.8" cy="468.9" r="1.85"/>
<circle cx="287.3" cy="469.0" r="1.85"/>
<circle cx="288.8" cy="468.3" r="1.85"/>
<circle cx="290.3" cy="468.9" r="1.85"/>
<circle cx="291.8" cy="468.2" r="1.85"/>
<circle cx="293.3" cy="467.7" r="1.85"/>
<circle cx="294.8" cy="468.0" r="1.85"/>
<circle cx="296.3" cy="468.1" r="1.85"/>
<circle cx="297.8" cy="467.5" r="1.85"/>
<circle cx="299.3" cy="467.7" r="1.85"/>
<circle cx="300.8" cy="468.0" r="1.85"/>
<circle cx="302.3" cy="467.3" r="1.85"/>
<circle cx="303.8" cy="466.8" r="1.85"/>
<circle cx="305.3" cy="466.3" r="1.85"/>
<circle cx="306.8" cy="466.3" r="1.85"/>
<circle cx="308.3" cy="465.4" r="1.85"/>
<circle cx="309.8" cy="464.6" r="1.85"/>
<circle cx="311.3" cy="465.1" r="1.85"/>
<circle cx="312.8" cy="464.6" r="1.85"/>
<circle cx="314.3" cy="465.2" r="1.85"/>
<circle cx="315.8" cy="464.4" r="1.85"/>
<circle cx="317.3" cy="463.8" r="1.85"/>
<circle cx="318.8" cy="463.5" r="1.85"/>
<circle cx="320.3" cy="463.7" r="1.85"/>
<circle cx="321.8" cy="463.0" r="1.85"/>
<circle cx="323.3" cy="462.7" r="1.85"/>
<circle cx="324.8" cy="462.6" r="1.85"/>
<circle cx="326.3" cy="462.3" r="1.85"/>
<circle cx="327.8" cy="462.1" r="1.85"/>
<circle cx="329.3" cy="461.8" r="1.85"/>
<circle cx="330.8" cy="461.9" r="1.85"/>
<circle cx="332.3" cy="461.7" r="1.85"/>
<circle cx="333.8" cy="460.5" r="1.85"/>
<circle cx="335.3" cy="461.5" r="1.85"/>
<circle cx="336.8" cy="460.6" r="1.85"/>
<circle cx="338.3" cy="460.7" r="1.85"/>
<circle cx="339.8" cy="459.9" r="1.85"/>
<circle cx="341.3" cy="460.1" r="1.85"/>
<circle cx="342.8" cy="459.9" r="1.85"/>
<circle cx="344.3" cy="459.7" r="1.85"/>
<circle cx="345.8" cy="459.8" r="1.85"/>
<circle cx="347.3" cy="459.6" r="1.85"/>
<circle cx="348.8" cy="459.0" r="1.85"/>
<circle cx="350.3" cy="459.2" r="1.85"/>
<circle cx="351.8" cy="459.3" r="1.85"/>
<circle cx="353.3" cy="459.2" r="1.85"/>
<circle cx="354.8" cy="458.8" r="1.85"/>
<circle cx="356.3" cy="458.7" r="1.85"/>
<circle cx="357.8" cy="458.6" r="1.85"/>
<circle cx="359.3" cy="458.2" r="1.85"/>
<circle cx="360.8" cy="458.1" r="1.85"/>
<circle cx="362.3" cy="458.8" r="1.85"/>
<circle cx="363.8" cy="458.2" r="1.85"/>
<circle cx="365.3" cy="458.2" r="1.85"/>
<circle cx="366.8" cy="457.9" r="1.85"/>
<circle cx="368.3" cy="458.4" r="1.85"/>
<circle cx="369.8" cy="458.5" r="1.85"/>
<circle cx="371.3" cy="457.8" r="1.85"/>
<circle cx="372.8" cy="457.9" r="1.85"/>
<circle cx="374.3" cy="457.5" r="1.85"/>
<circle cx="375.8" cy="458.2" r="1.85"/>
<circle cx="377.3" cy="457.8" r="1.85"/>
<circle cx="378.8" cy="457.3" r="1.85"/>
<circle cx="380.3" cy="457.8" r="1.85"/>
<circle cx="381.8" cy="457.5" r="1.85"/>
<circle cx="383.3" cy="457.5" r="1.85"/>
<circle cx="384.8" cy="457.4" r="1.85"/>
<circle cx="386.3" cy="457.0" r="1.85"/>
<circle cx="387.8" cy="457.0" r="1.85"/>
<circle cx="389.3" cy="457.3" r="1.85"/>
<circle cx="390.8" cy="457.1" r="1.85"/>
<circle cx="392.3" cy="456.8" r="1.85"/>
<circle cx="393.8" cy="457.6" r="1.85"/>
<circle cx="395.3" cy="456.9" r="1.85"/>
<circle cx="396.8" cy="456.7" r="1.85"/>
<circle cx="398.3" cy="456.7" r="1.85"/>
<circle cx="399.8" cy="457.0" r="1.85"/>
<circle cx="401.3" cy="457.1" r="1.85"/>
<circle cx="402.8" cy="456.8" r="1.85"/>
<circle cx="404.3" cy="457.0" r="1.85"/>
<circle cx="405.8" cy="456.2" r="1.85"/>
<circle cx="407.3" cy="456.5" r="1.85"/>
<circle cx="408.8" cy="456.5" r="1.85"/>
<circle cx="410.3" cy="456.6" r="1.85"/>
<circle cx="411.8" cy="456.7" r="1.85"/>
<circle cx="413.3" cy="455.9" r="1.85"/>
<circle cx="414.8" cy="457.4" r="1.85"/>
<circle cx="416.3" cy="456.2" r="1.85"/>
<circle cx="417.8" cy="456.5" r="1.85"/>
<circle cx="419.3" cy="456.6" r="1.85"/>
<circle cx="420.8" cy="456.6" r="1.85"/>
<circle cx="422.3" cy="456.4" r="1.85"/>
<circle cx="423.8" cy="455.4" r="1.85"/>
<circle cx="425.3" cy="455.9" r="1.85"/>
<circle cx="426.8" cy="456.4" r="1.85"/>
<circle cx="428.3" cy="455.9" r="1.85"/>
<circle cx="429.8" cy="455.8" r="1.85"/>
<circle cx="431.3" cy="455.4" r="1.85"/>
<circle cx="432.8" cy="456.5" r="1.85"/>
<circle cx="434.3" cy="456.2" r="1.85"/>
<circle cx="435.8" cy="455.8" r="1.85"/>
<circle cx="437.3" cy="456.0" r="1.85"/>
<circle cx="438.8" cy="456.0" r="1.85"/>
<circle cx="440.3" cy="455.6" r="1.85"/>
<circle cx="441.8" cy="455.9" r="1.85"/>
<circle cx="443.3" cy="456.0" r="1.85"/>
<circle cx="444.8" cy="456.1" r="1.85"/>
<circle cx="446.3" cy="456.2" r="1.85"/>
<circle cx="447.8" cy="455.9" r="1.85"/>
<circle cx="449.3" cy="455.7" r="1.85"/>
<circle cx="450.8" cy="455.9" r="1.85"/>
<circle cx="452.3" cy="455.6" r="1.85"/>
<circle cx="453.8" cy="455.4" r="1.85"/>
<circle cx="455.3" cy="456.1" r="1.85"/>
<circle cx="456.8" cy="455.6" r="1.85"/>
<circle cx="458.3" cy="455.7" r="1.85"/>
<circle cx="459.8" cy="455.9" r="1.85"/>
<circle cx="461.3" cy="455.3" r="1.85"/>
<circle cx="462.8" cy="455.9" r="1.85"/>
<circle cx="464.3" cy="455.8" r="1.85"/>
<circle cx="465.8" cy="455.6" r="1.85"/>
<circle cx="467.3" cy="455.7" r="1.85"/>
<circle cx="468.8" cy="455.4" r="1.85"/>
<circle cx="470.3" cy="454.9" r="1.85"/>
<circle cx="471.8" cy="455.5" r="1.85"/>
<circle cx="473.3" cy="455.3" r="1.85"/>
<circle cx="474.8" cy="455.8" r="1.85"/>
<circle cx="476.3" cy="455.6" r="1.85"/>
<circle cx="477.8" cy="455.4" r="1.85"/>
<circle cx="479.3" cy="455.5" r="1.85"/>
<circle cx="480.8" cy="455.9" r="1.85"/>
<circle cx="482.3" cy="455.8" r="1.85"/>
<circle cx="483.8" cy="455.6" r="1.85"/>
<circle cx="485.3" cy="455.6" r="1.85"/>
<circle cx="486.8" cy="455.4" r="1.85"/>
<circle cx="488.3" cy="455.4" r="1.85"/>
<circle cx="489.8" cy="455.6" r="1.85"/>
<circle cx="491.3" cy="455.4" r="1.85"/>
<circle cx="492.8" cy="455.5" r="1.85"/>
<circle cx="494.3" cy="455.1" r="1.85"/>
<circle cx="495.8" cy="454.9" r="1.85"/>
<circle cx="497.3" cy="454.9" r="1.85"/>
<circle cx="498.8" cy="455.2" r="1.85"/>
<circle cx="500.3" cy="455.7" r="1.85"/>
<circle cx="501.8" cy="455.7" r="1.85"/>
<circle cx="503.3" cy="455.0" r="1.85"/>
<circle cx="504.8" cy="454.8" r="1.85"/>
<circle cx="506.3" cy="455.5" r="1.85"/>
<circle cx="507.8" cy="455.4" r="1.85"/>
<circle cx="509.3" cy="454.9" r="1.85"/>
<circle cx="510.8" cy="455.6" r="1.85"/>
<circle cx="512.3" cy="455.3" r="1.85"/>
<circle cx="513.8" cy="455.6" r="1.85"/>
<circle cx="515.3" cy="455.3" r="1.85"/>
<circle cx="117.7" cy="657.6" r="2.05"/>
<circle cx="124.2" cy="637.6" r="2.05"/>
<circle cx="125.8" cy="638.6" r="2.05"/>
<circle cx="131.6" cy="634.0" r="2.05"/>
<circle cx="136.3" cy="662.3" r="2.05"/>
<circle cx="137.6" cy="656.2" r="2.05"/>
<circle cx="140.3" cy="655.5" r="2.05"/>
<circle cx="143.8" cy="655.9" r="2.05"/>
<circle cx="146.7" cy="647.6" r="2.05"/>
<circle cx="152.5" cy="637.9" r="2.05"/>
<circle cx="154.0" cy="655.1" r="2.05"/>
<circle cx="161.8" cy="640.8" r="2.05"/>
<circle cx="162.7" cy="662.5" r="2.05"/>
<circle cx="164.8" cy="650.0" r="2.05"/>
<circle cx="166.3" cy="646.7" r="2.05"/>
<circle cx="167.6" cy="643.3" r="2.05"/>
<circle cx="171.6" cy="654.9" r="2.05"/>
<circle cx="173.5" cy="646.0" r="2.05"/>
<circle cx="175.4" cy="660.6" r="2.05"/>
<circle cx="176.9" cy="637.6" r="2.05"/>
<circle cx="179.5" cy="653.7" r="2.05"/>
<circle cx="181.2" cy="654.1" r="2.05"/>
<circle cx="182.0" cy="630.6" r="2.05"/>
</g>
<g fill="rgb(236,120,48)" fill-opacity="0.55" stroke="rgb(236,120,48)" stroke-opacity="0.75" stroke-width="1">
<circle cx="155.6" cy="649.3" r="2.05"/>
<circle cx="157.1" cy="647.0" r="2.05"/>
<circle cx="158.6" cy="641.4" r="2.05"/>
<circle cx="160.1" cy="633.0" r="2.05"/>
<circle cx="161.6" cy="620.9" r="1.85"/>
<circle cx="163.1" cy="606.3" r="1.85"/>
<circle cx="164.6" cy="590.7" r="1.85"/>
<circle cx="166.1" cy="568.7" r="1.85"/>
<circle cx="167.6" cy="544.4" r="1.85"/>
<circle cx="169.1" cy="534.5" r="1.85"/>
<circle cx="170.6" cy="528.3" r="1.85"/>
<circle cx="172.1" cy="523.1" r="1.85"/>
<circle cx="173.6" cy="519.1" r="1.85"/>
<circle cx="175.1" cy="516.6" r="1.85"/>
<circle cx="176.6" cy="514.8" r="1.85"/>
<circle cx="178.1" cy="513.9" r="1.85"/>
<circle cx="179.6" cy="511.6" r="1.85"/>
<circle cx="181.1" cy="509.9" r="1.85"/>
<circle cx="182.6" cy="508.6" r="1.85"/>
<circle cx="184.1" cy="504.8" r="1.85"/>
<circle cx="185.6" cy="502.8" r="1.85"/>
<circle cx="187.1" cy="502.7" r="1.85"/>
<circle cx="188.6" cy="501.0" r="1.85"/>
<circle cx="190.1" cy="499.6" r="1.85"/>
<circle cx="191.6" cy="498.7" r="1.85"/>
<circle cx="193.1" cy="497.4" r="1.85"/>
<circle cx="194.6" cy="497.0" r="1.85"/>
<circle cx="196.1" cy="495.6" r="1.85"/>
<circle cx="197.6" cy="495.4" r="1.85"/>
<circle cx="199.1" cy="493.5" r="1.85"/>
<circle cx="200.6" cy="493.0" r="1.85"/>
<circle cx="202.1" cy="492.9" r="1.85"/>
<circle cx="203.6" cy="491.9" r="1.85"/>
<circle cx="205.1" cy="492.0" r="1.85"/>
<circle cx="206.6" cy="490.9" r="1.85"/>
<circle cx="208.1" cy="490.0" r="1.85"/>
<circle cx="209.6" cy="489.9" r="1.85"/>
<circle cx="211.1" cy="488.8" r="1.85"/>
<circle cx="212.6" cy="487.7" r="1.85"/>
<circle cx="214.1" cy="487.4" r="1.85"/>
<circle cx="215.6" cy="487.0" r="1.85"/>
<circle cx="217.1" cy="486.7" r="1.85"/>
<circle cx="218.6" cy="486.5" r="1.85"/>
<circle cx="220.1" cy="486.5" r="1.85"/>
<circle cx="221.6" cy="485.9" r="1.85"/>
<circle cx="223.1" cy="486.2" r="1.85"/>
<circle cx="224.6" cy="485.4" r="1.85"/>
<circle cx="226.1" cy="484.2" r="1.85"/>
<circle cx="227.6" cy="484.9" r="1.85"/>
<circle cx="229.1" cy="484.2" r="1.85"/>
<circle cx="230.6" cy="482.9" r="1.85"/>
<circle cx="232.1" cy="483.0" r="1.85"/>
<circle cx="233.6" cy="483.1" r="1.85"/>
<circle cx="235.1" cy="482.2" r="1.85"/>
<circle cx="236.6" cy="482.4" r="1.85"/>
<circle cx="238.1" cy="481.6" r="1.85"/>
<circle cx="239.6" cy="481.5" r="1.85"/>
<circle cx="241.1" cy="480.6" r="1.85"/>
<circle cx="242.6" cy="480.6" r="1.85"/>
<circle cx="244.1" cy="479.9" r="1.85"/>
<circle cx="245.6" cy="480.2" r="1.85"/>
<circle cx="247.1" cy="478.4" r="1.85"/>
<circle cx="248.6" cy="479.3" r="1.85"/>
<circle cx="250.1" cy="479.6" r="1.85"/>
<circle cx="251.6" cy="478.8" r="1.85"/>
<circle cx="253.1" cy="478.2" r="1.85"/>
<circle cx="254.6" cy="478.2" r="1.85"/>
<circle cx="256.1" cy="477.1" r="1.85"/>
<circle cx="257.6" cy="476.9" r="1.85"/>
<circle cx="259.1" cy="476.9" r="1.85"/>
<circle cx="260.6" cy="476.7" r="1.85"/>
<circle cx="262.1" cy="477.1" r="1.85"/>
<circle cx="263.6" cy="475.7" r="1.85"/>
<circle cx="265.1" cy="476.6" r="1.85"/>
<circle cx="266.6" cy="474.8" r="1.85"/>
<circle cx="268.1" cy="474.9" r="1.85"/>
<circle cx="269.6" cy="475.1" r="1.85"/>
<circle cx="271.1" cy="475.5" r="1.85"/>
<circle cx="272.6" cy="474.1" r="1.85"/>
<circle cx="274.1" cy="472.8" r="1.85"/>
<circle cx="275.6" cy="474.0" r="1.85"/>
<circle cx="277.1" cy="473.4" r="1.85"/>
<circle cx="278.6" cy="472.3" r="1.85"/>
<circle cx="280.1" cy="472.0" r="1.85"/>
<circle cx="281.6" cy="471.8" r="1.85"/>
<circle cx="283.1" cy="471.9" r="1.85"/>
<circle cx="284.6" cy="471.7" r="1.85"/>
<circle cx="286.1" cy="470.6" r="1.85"/>
<circle cx="287.6" cy="471.3" r="1.85"/>
<circle cx="289.1" cy="470.3" r="1.85"/>
<circle cx="290.6" cy="469.8" r="1.85"/>
<circle cx="292.1" cy="469.7" r="1.85"/>
<circle cx="293.6" cy="469.2" r="1.85"/>
<circle cx="295.1" cy="469.5" r="1.85"/>
<circle cx="296.6" cy="468.8" r="1.85"/>
<circle cx="298.1" cy="468.1" r="1.85"/>
<circle cx="299.6" cy="467.7" r="1.85"/>
<circle cx="301.1" cy="467.5" r="1.85"/>
<circle cx="302.6" cy="467.3" r="1.85"/>
<circle cx="304.1" cy="467.4" r="1.85"/>
<circle cx="305.6" cy="466.8" r="1.85"/>
<circle cx="307.1" cy="467.3" r="1.85"/>
<circle cx="308.6" cy="466.6" r="1.85"/>
<circle cx="310.1" cy="466.4" r="1.85"/>
<circle cx="311.6" cy="466.5" r="1.85"/>
<circle cx="313.1" cy="465.5" r="1.85"/>
<circle cx="314.6" cy="465.6" r="1.85"/>
<circle cx="316.1" cy="465.9" r="1.85"/>
<circle cx="317.6" cy="465.5" r="1.85"/>
<circle cx="319.1" cy="465.3" r="1.85"/>
<circle cx="320.6" cy="465.2" r="1.85"/>
<circle cx="322.1" cy="464.7" r="1.85"/>
<circle cx="323.6" cy="464.6" r="1.85"/>
<circle cx="325.1" cy="464.0" r="1.85"/>
<circle cx="326.6" cy="463.6" r="1.85"/>
<circle cx="328.1" cy="464.3" r="1.85"/>
<circle cx="329.6" cy="463.4" r="1.85"/>
<circle cx="331.1" cy="463.2" r="1.85"/>
<circle cx="332.6" cy="463.6" r="1.85"/>
<circle cx="334.1" cy="463.3" r="1.85"/>
<circle cx="335.6" cy="462.7" r="1.85"/>
<circle cx="337.1" cy="462.5" r="1.85"/>
<circle cx="338.6" cy="462.5" r="1.85"/>
<circle cx="340.1" cy="462.1" r="1.85"/>
<circle cx="341.6" cy="462.4" r="1.85"/>
<circle cx="343.1" cy="462.1" r="1.85"/>
<circle cx="344.6" cy="462.0" r="1.85"/>
<circle cx="346.1" cy="462.1" r="1.85"/>
<circle cx="347.6" cy="461.9" r="1.85"/>
<circle cx="349.1" cy="462.1" r="1.85"/>
<circle cx="350.6" cy="461.9" r="1.85"/>
<circle cx="352.1" cy="460.9" r="1.85"/>
<circle cx="353.6" cy="461.5" r="1.85"/>
<circle cx="355.1" cy="460.8" r="1.85"/>
<circle cx="356.6" cy="460.6" r="1.85"/>
<circle cx="358.1" cy="461.2" r="1.85"/>
<circle cx="359.6" cy="460.7" r="1.85"/>
<circle cx="361.1" cy="460.7" r="1.85"/>
<circle cx="362.6" cy="461.0" r="1.85"/>
<circle cx="364.1" cy="460.4" r="1.85"/>
<circle cx="365.6" cy="460.3" r="1.85"/>
<circle cx="367.1" cy="460.5" r="1.85"/>
<circle cx="368.6" cy="460.7" r="1.85"/>
<circle cx="370.1" cy="460.4" r="1.85"/>
<circle cx="371.6" cy="459.7" r="1.85"/>
<circle cx="373.1" cy="459.9" r="1.85"/>
<circle cx="374.6" cy="460.0" r="1.85"/>
<circle cx="376.1" cy="460.5" r="1.85"/>
<circle cx="377.6" cy="460.2" r="1.85"/>
<circle cx="379.1" cy="460.1" r="1.85"/>
<circle cx="380.6" cy="460.1" r="1.85"/>
<circle cx="382.1" cy="459.6" r="1.85"/>
<circle cx="383.6" cy="459.8" r="1.85"/>
<circle cx="385.1" cy="459.7" r="1.85"/>
<circle cx="386.6" cy="459.2" r="1.85"/>
<circle cx="388.1" cy="459.5" r="1.85"/>
<circle cx="389.6" cy="459.6" r="1.85"/>
<circle cx="391.1" cy="459.1" r="1.85"/>
<circle cx="392.6" cy="459.6" r="1.85"/>
<circle cx="394.1" cy="459.5" r="1.85"/>
<circle cx="395.6" cy="459.6" r="1.85"/>
<circle cx="397.1" cy="459.0" r="1.85"/>
<circle cx="398.6" cy="459.2" r="1.85"/>
<circle cx="400.1" cy="459.6" r="1.85"/>
<circle cx="401.6" cy="459.4" r="1.85"/>
<circle cx="403.1" cy="458.8" r="1.85"/>
<circle cx="404.6" cy="459.1" r="1.85"/>
<circle cx="406.1" cy="459.4" r="1.85"/>
<circle cx="407.6" cy="458.9" r="1.85"/>
<circle cx="409.1" cy="459.1" r="1.85"/>
<circle cx="410.6" cy="459.7" r="1.85"/>
<circle cx="412.1" cy="458.9" r="1.85"/>
<circle cx="413.6" cy="458.8" r="1.85"/>
<circle cx="415.1" cy="458.5" r="1.85"/>
<circle cx="416.6" cy="458.6" r="1.85"/>
<circle cx="418.1" cy="459.2" r="1.85"/>
<circle cx="419.6" cy="458.7" r="1.85"/>
<circle cx="421.1" cy="458.3" r="1.85"/>
<circle cx="422.6" cy="458.4" r="1.85"/>
<circle cx="424.1" cy="458.6" r="1.85"/>
<circle cx="425.6" cy="458.8" r="1.85"/>
<circle cx="427.1" cy="458.4" r="1.85"/>
<circle cx="428.6" cy="458.8" r="1.85"/>
<circle cx="430.1" cy="458.4" r="1.85"/>
<circle cx="431.6" cy="458.6" r="1.85"/>
<circle cx="433.1" cy="458.6" r="1.85"/>
<circle cx="434.6" cy="458.6" r="1.85"/>
<circle cx="436.1" cy="458.3" r="1.85"/>
<circle cx="437.6" cy="458.4" r="1.85"/>
<circle cx="439.1" cy="458.5" r="1.85"/>
<circle cx="440.6" cy="458.0" r="1.85"/>
<circle cx="442.1" cy="458.4" r="1.85"/>
<circle cx="443.6" cy="458.5" r="1.85"/>
<circle cx="445.1" cy="458.6" r="1.85"/>
<circle cx="446.6" cy="458.3" r="1.85"/>
<circle cx="448.1" cy="458.2" r="1.85"/>
<circle cx="449.6" cy="458.3" r="1.85"/>
<circle cx="451.1" cy="458.0" r="1.85"/>
<circle cx="452.6" cy="458.1" r="1.85"/>
<circle cx="454.1" cy="458.3" r="1.85"/>
<circle cx="455.6" cy="458.2" r="1.85"/>
<circle cx="457.1" cy="457.8" r="1.85"/>
<circle cx="458.6" cy="458.0" r="1.85"/>
<circle cx="460.1" cy="457.5" r="1.85"/>
<circle cx="461.6" cy="458.3" r="1.85"/>
<circle cx="463.1" cy="457.9" r="1.85"/>
<circle cx="464.6" cy="458.1" r="1.85"/>
<circle cx="466.1" cy="457.7" r="1.85"/>
<circle cx="467.6" cy="458.0" r="1.85"/>
<circle cx="469.1" cy="458.1" r="1.85"/>
<circle cx="470.6" cy="458.3" r="1.85"/>
<circle cx="472.1" cy="457.6" r="1.85"/>
<circle cx="473.6" cy="458.2" r="1.85"/>
<circle cx="475.1" cy="457.9" r="1.85"/>
<circle cx="476.6" cy="457.7" r="1.85"/>
<circle cx="478.1" cy="458.1" r="1.85"/>
<circle cx="479.6" cy="457.8" r="1.85"/>
<circle cx="481.1" cy="457.8" r="1.85"/>
<circle cx="482.6" cy="457.7" r="1.85"/>
<circle cx="484.1" cy="457.9" r="1.85"/>
<circle cx="485.6" cy="457.9" r="1.85"/>
<circle cx="487.1" cy="457.8" r="1.85"/>
<circle cx="488.6" cy="457.6" r="1.85"/>
<circle cx="490.1" cy="457.7" r="1.85"/>
<circle cx="491.6" cy="457.9" r="1.85"/>
<circle cx="493.1" cy="458.2" r="1.85"/>
<circle cx="494.6" cy="457.8" r="1.85"/>
<circle cx="496.1" cy="458.2" r="1.85"/>
<circle cx="497.6" cy="457.8" r="1.85"/>
<circle cx="499.1" cy="457.4" r="1.85"/>
<circle cx="500.6" cy="457.9" r="1.85"/>
<circle cx="502.1" cy="457.4" r="1.85"/>
<circle cx="503.6" cy="457.8" r="1.85"/>
<circle cx="505.1" cy="458.0" r="1.85"/>
<circle cx="506.6" cy="457.6" r="1.85"/>
<circle cx="508.1" cy="457.7" r="1.85"/>
<circle cx="509.6" cy="458.4" r="1.85"/>
<circle cx="511.1" cy="457.7" r="1.85"/>
<circle cx="512.6" cy="457.7" r="1.85"/>
<circle cx="514.1" cy="457.9" r="1.85"/>
<circle cx="515.6" cy="457.6" r="1.85"/>
<circle cx="88.7" cy="643.9" r="2.05"/>
<circle cx="91.6" cy="663.2" r="2.05"/>
<circle cx="94.5" cy="653.4" r="2.05"/>
<circle cx="98.1" cy="661.8" r="2.05"/>
<circle cx="99.3" cy="662.5" r="2.05"/>
<circle cx="101.0" cy="640.7" r="2.05"/>
<circle cx="105.5" cy="657.6" r="2.05"/>
<circle cx="110.2" cy="657.9" r="2.05"/>
<circle cx="111.2" cy="662.8" r="2.05"/>
<circle cx="116.2" cy="652.4" r="2.05"/>
<circle cx="117.1" cy="647.4" r="2.05"/>
<circle cx="121.7" cy="647.9" r="2.05"/>
<circle cx="127.9" cy="657.3" r="2.05"/>
<circle cx="129.8" cy="656.2" r="2.05"/>
<circle cx="130.7" cy="658.7" r="2.05"/>
<circle cx="132.2" cy="660.7" r="2.05"/>
<circle cx="134.1" cy="647.3" r="2.05"/>
<circle cx="135.3" cy="651.3" r="2.05"/>
<circle cx="138.6" cy="646.9" r="2.05"/>
<circle cx="140.1" cy="647.8" r="2.05"/>
<circle cx="142.9" cy="639.4" r="2.05"/>
<circle cx="144.5" cy="640.4" r="2.05"/>
<circle cx="146.5" cy="656.6" r="2.05"/>
<circle cx="149.4" cy="657.2" r="2.05"/>
<circle cx="150.7" cy="657.8" r="2.05"/>
<circle cx="152.0" cy="649.8" r="2.05"/>
</g>
<g fill="rgb(245,195,40)" fill-opacity="0.55" stroke="rgb(245,195,40)" stroke-opacity="0.75" stroke-width="1">
<circle cx="120.6" cy="644.2" r="2.05"/>
<circle cx="122.1" cy="632.2" r="2.05"/>
<circle cx="123.6" cy="622.4" r="1.85"/>
<circle cx="125.1" cy="613.1" r="1.85"/>
<circle cx="126.6" cy="600.5" r="1.85"/>
<circle cx="128.1" cy="581.0" r="1.85"/>
<circle cx="129.6" cy="562.7" r="1.85"/>
<circle cx="131.1" cy="550.0" r="1.85"/>
<circle cx="132.6" cy="540.5" r="1.85"/>
<circle cx="134.1" cy="531.6" r="1.85"/>
<circle cx="135.6" cy="525.5" r="1.85"/>
<circle cx="137.1" cy="522.3" r="1.85"/>
<circle cx="138.6" cy="518.6" r="1.85"/>
<circle cx="140.1" cy="513.6" r="1.85"/>
<circle cx="141.6" cy="512.2" r="1.85"/>
<circle cx="143.1" cy="510.6" r="1.85"/>
<circle cx="144.6" cy="508.6" r="1.85"/>
<circle cx="146.1" cy="506.1" r="1.85"/>
<circle cx="147.6" cy="505.7" r="1.85"/>
<circle cx="149.1" cy="502.8" r="1.85"/>
<circle cx="150.6" cy="501.8" r="1.85"/>
<circle cx="152.1" cy="500.8" r="1.85"/>
<circle cx="153.6" cy="499.6" r="1.85"/>
<circle cx="155.1" cy="499.1" r="1.85"/>
<circle cx="156.6" cy="498.4" r="1.85"/>
<circle cx="158.1" cy="496.9" r="1.85"/>
<circle cx="159.6" cy="497.0" r="1.85"/>
<circle cx="161.1" cy="495.0" r="1.85"/>
<circle cx="162.6" cy="494.5" r="1.85"/>
<circle cx="164.1" cy="495.0" r="1.85"/>
<circle cx="165.6" cy="493.4" r="1.85"/>
<circle cx="167.1" cy="493.3" r="1.85"/>
<circle cx="168.6" cy="491.9" r="1.85"/>
<circle cx="170.1" cy="491.5" r="1.85"/>
<circle cx="171.6" cy="491.1" r="1.85"/>
<circle cx="173.1" cy="490.7" r="1.85"/>
<circle cx="174.6" cy="489.9" r="1.85"/>
<circle cx="176.1" cy="489.7" r="1.85"/>
<circle cx="177.6" cy="489.6" r="1.85"/>
<circle cx="179.1" cy="489.4" r="1.85"/>
<circle cx="180.6" cy="488.2" r="1.85"/>
<circle cx="182.1" cy="488.1" r="1.85"/>
<circle cx="183.6" cy="487.8" r="1.85"/>
<circle cx="185.1" cy="486.1" r="1.85"/>
<circle cx="186.6" cy="485.4" r="1.85"/>
<circle cx="188.1" cy="486.8" r="1.85"/>
<circle cx="189.6" cy="486.2" r="1.85"/>
<circle cx="191.1" cy="485.0" r="1.85"/>
<circle cx="192.6" cy="484.7" r="1.85"/>
<circle cx="194.1" cy="483.3" r="1.85"/>
<circle cx="195.6" cy="482.4" r="1.85"/>
<circle cx="197.1" cy="482.8" r="1.85"/>
<circle cx="198.6" cy="481.1" r="1.85"/>
<circle cx="200.1" cy="482.0" r="1.85"/>
<circle cx="201.6" cy="480.5" r="1.85"/>
<circle cx="203.1" cy="480.5" r="1.85"/>
<circle cx="204.6" cy="481.0" r="1.85"/>
<circle cx="206.1" cy="480.5" r="1.85"/>
<circle cx="207.6" cy="478.7" r="1.85"/>
<circle cx="209.1" cy="479.2" r="1.85"/>
<circle cx="210.6" cy="477.7" r="1.85"/>
<circle cx="212.1" cy="477.7" r="1.85"/>
<circle cx="213.6" cy="478.0" r="1.85"/>
<circle cx="215.1" cy="478.4" r="1.85"/>
<circle cx="216.6" cy="477.0" r="1.85"/>
<circle cx="218.1" cy="477.4" r="1.85"/>
<circle cx="219.6" cy="477.0" r="1.85"/>
<circle cx="221.1" cy="475.9" r="1.85"/>
<circle cx="222.6" cy="476.4" r="1.85"/>
<circle cx="224.1" cy="477.1" r="1.85"/>
<circle cx="225.6" cy="475.9" r="1.85"/>
<circle cx="227.1" cy="476.1" r="1.85"/>
<circle cx="228.6" cy="476.0" r="1.85"/>
<circle cx="230.1" cy="474.9" r="1.85"/>
<circle cx="231.6" cy="475.9" r="1.85"/>
<circle cx="233.1" cy="475.8" r="1.85"/>
<circle cx="234.6" cy="475.6" r="1.85"/>
<circle cx="236.1" cy="475.3" r="1.85"/>
<circle cx="237.6" cy="474.0" r="1.85"/>
<circle cx="239.1" cy="473.7" r="1.85"/>
<circle cx="240.6" cy="473.4" r="1.85"/>
<circle cx="242.1" cy="473.1" r="1.85"/>
<circle cx="243.6" cy="472.9" r="1.85"/>
<circle cx="245.1" cy="473.8" r="1.85"/>
<circle cx="246.6" cy="473.9" r="1.85"/>
<circle cx="248.1" cy="472.4" r="1.85"/>
<circle cx="249.6" cy="473.0" r="1.85"/>
<circle cx="251.1" cy="471.6" r="1.85"/>
<circle cx="252.6" cy="471.9" r="1.85"/>
<circle cx="254.1" cy="471.2" r="1.85"/>
<circle cx="255.6" cy="470.6" r="1.85"/>
<circle cx="257.1" cy="471.4" r="1.85"/>
<circle cx="258.6" cy="471.1" r="1.85"/>
<circle cx="260.1" cy="470.6" r="1.85"/>
<circle cx="261.6" cy="470.3" r="1.85"/>
<circle cx="263.1" cy="469.7" r="1.85"/>
<circle cx="264.6" cy="470.0" r="1.85"/>
<circle cx="266.1" cy="469.5" r="1.85"/>
<circle cx="267.6" cy="469.8" r="1.85"/>
<circle cx="269.1" cy="468.7" r="1.85"/>
<circle cx="270.6" cy="469.3" r="1.85"/>
<circle cx="272.1" cy="469.3" r="1.85"/>
<circle cx="273.6" cy="469.5" r="1.85"/>
<circle cx="275.1" cy="469.2" r="1.85"/>
<circle cx="276.6" cy="468.4" r="1.85"/>
<circle cx="278.1" cy="467.7" r="1.85"/>
<circle cx="279.6" cy="466.8" r="1.85"/>
<circle cx="281.1" cy="467.7" r="1.85"/>
<circle cx="282.6" cy="468.4" r="1.85"/>
<circle cx="284.1" cy="468.1" r="1.85"/>
<circle cx="285.6" cy="466.9" r="1.85"/>
<circle cx="287.1" cy="467.5" r="1.85"/>
<circle cx="288.6" cy="467.7" r="1.85"/>
<circle cx="290.1" cy="467.6" r="1.85"/>
<circle cx="291.6" cy="468.0" r="1.85"/>
<circle cx="293.1" cy="468.1" r="1.85"/>
<circle cx="294.6" cy="468.0" r="1.85"/>
<circle cx="296.1" cy="468.3" r="1.85"/>
<circle cx="297.6" cy="468.0" r="1.85"/>
<circle cx="299.1" cy="468.3" r="1.85"/>
<circle cx="300.6" cy="468.3" r="1.85"/>
<circle cx="302.1" cy="468.8" r="1.85"/>
<circle cx="303.6" cy="467.9" r="1.85"/>
<circle cx="305.1" cy="468.3" r="1.85"/>
<circle cx="306.6" cy="468.5" r="1.85"/>
<circle cx="308.1" cy="468.1" r="1.85"/>
<circle cx="309.6" cy="468.3" r="1.85"/>
<circle cx="311.1" cy="467.7" r="1.85"/>
<circle cx="312.6" cy="468.0" r="1.85"/>
<circle cx="314.1" cy="468.0" r="1.85"/>
<circle cx="315.6" cy="468.3" r="1.85"/>
<circle cx="317.1" cy="467.8" r="1.85"/>
<circle cx="318.6" cy="467.9" r="1.85"/>
<circle cx="320.1" cy="467.4" r="1.85"/>
<circle cx="321.6" cy="467.3" r="1.85"/>
<circle cx="323.1" cy="467.6" r="1.85"/>
<circle cx="324.6" cy="467.2" r="1.85"/>
<circle cx="326.1" cy="467.3" r="1.85"/>
<circle cx="327.6" cy="467.0" r="1.85"/>
<circle cx="329.1" cy="467.3" r="1.85"/>
<circle cx="330.6" cy="467.3" r="1.85"/>
<circle cx="332.1" cy="466.2" r="1.85"/>
<circle cx="333.6" cy="466.9" r="1.85"/>
<circle cx="335.1" cy="466.4" r="1.85"/>
<circle cx="336.6" cy="466.3" r="1.85"/>
<circle cx="338.1" cy="466.0" r="1.85"/>
<circle cx="339.6" cy="466.2" r="1.85"/>
<circle cx="341.1" cy="465.5" r="1.85"/>
<circle cx="342.6" cy="465.6" r="1.85"/>
<circle cx="344.1" cy="465.5" r="1.85"/>
<circle cx="345.6" cy="465.7" r="1.85"/>
<circle cx="347.1" cy="465.8" r="1.85"/>
<circle cx="348.6" cy="465.7" r="1.85"/>
<circle cx="350.1" cy="465.5" r="1.85"/>
<circle cx="351.6" cy="465.1" r="1.85"/>
<circle cx="353.1" cy="464.7" r="1.85"/>
<circle cx="354.6" cy="465.2" r="1.85"/>
<circle cx="356.1" cy="465.1" r="1.85"/>
<circle cx="357.6" cy="465.1" r="1.85"/>
<circle cx="359.1" cy="465.3" r="1.85"/>
<circle cx="360.6" cy="464.8" r="1.85"/>
<circle cx="362.1" cy="464.7" r="1.85"/>
<circle cx="363.6" cy="464.0" r="1.85"/>
<circle cx="365.1" cy="464.8" r="1.85"/>
<circle cx="366.6" cy="464.5" r="1.85"/>
<circle cx="368.1" cy="464.2" r="1.85"/>
<circle cx="369.6" cy="464.5" r="1.85"/>
<circle cx="371.1" cy="464.0" r="1.85"/>
<circle cx="372.6" cy="464.1" r="1.85"/>
<circle cx="374.1" cy="464.8" r="1.85"/>
<circle cx="375.6" cy="464.3" r="1.85"/>
<circle cx="377.1" cy="464.3" r="1.85"/>
<circle cx="378.6" cy="464.2" r="1.85"/>
<circle cx="380.1" cy="464.1" r="1.85"/>
<circle cx="381.6" cy="463.9" r="1.85"/>
<circle cx="383.1" cy="464.5" r="1.85"/>
<circle cx="384.6" cy="463.7" r="1.85"/>
<circle cx="386.1" cy="463.9" r="1.85"/>
<circle cx="387.6" cy="463.6" r="1.85"/>
<circle cx="389.1" cy="463.5" r="1.85"/>
<circle cx="390.6" cy="462.8" r="1.85"/>
<circle cx="392.1" cy="462.9" r="1.85"/>
<circle cx="393.6" cy="463.9" r="1.85"/>
<circle cx="395.1" cy="463.8" r="1.85"/>
<circle cx="396.6" cy="463.2" r="1.85"/>
<circle cx="398.1" cy="463.3" r="1.85"/>
<circle cx="399.6" cy="463.4" r="1.85"/>
<circle cx="401.1" cy="462.9" r="1.85"/>
<circle cx="402.6" cy="463.7" r="1.85"/>
<circle cx="404.1" cy="462.8" r="1.85"/>
<circle cx="405.6" cy="462.8" r="1.85"/>
<circle cx="407.1" cy="462.1" r="1.85"/>
<circle cx="408.6" cy="463.4" r="1.85"/>
<circle cx="410.1" cy="462.9" r="1.85"/>
<circle cx="411.6" cy="463.3" r="1.85"/>
<circle cx="413.1" cy="462.5" r="1.85"/>
<circle cx="414.6" cy="462.8" r="1.85"/>
<circle cx="416.1" cy="462.7" r="1.85"/>
<circle cx="417.6" cy="462.7" r="1.85"/>
<circle cx="419.1" cy="463.2" r="1.85"/>
<circle cx="420.6" cy="463.2" r="1.85"/>
<circle cx="422.1" cy="462.9" r="1.85"/>
<circle cx="423.6" cy="462.4" r="1.85"/>
<circle cx="425.1" cy="462.7" r="1.85"/>
<circle cx="426.6" cy="462.8" r="1.85"/>
<circle cx="428.1" cy="462.5" r="1.85"/>
<circle cx="429.6" cy="462.5" r="1.85"/>
<circle cx="431.1" cy="462.4" r="1.85"/>
<circle cx="432.6" cy="462.0" r="1.85"/>
<circle cx="434.1" cy="462.3" r="1.85"/>
<circle cx="435.6" cy="462.6" r="1.85"/>
<circle cx="437.1" cy="461.8" r="1.85"/>
<circle cx="438.6" cy="462.1" r="1.85"/>
<circle cx="440.1" cy="462.3" r="1.85"/>
<circle cx="441.6" cy="461.6" r="1.85"/>
<circle cx="443.1" cy="461.9" r="1.85"/>
<circle cx="444.6" cy="461.4" r="1.85"/>
<circle cx="446.1" cy="461.7" r="1.85"/>
<circle cx="447.6" cy="461.5" r="1.85"/>
<circle cx="449.1" cy="461.6" r="1.85"/>
<circle cx="450.6" cy="461.7" r="1.85"/>
<circle cx="452.1" cy="461.7" r="1.85"/>
<circle cx="453.6" cy="461.7" r="1.85"/>
<circle cx="455.1" cy="461.0" r="1.85"/>
<circle cx="456.6" cy="462.2" r="1.85"/>
<circle cx="458.1" cy="461.6" r="1.85"/>
<circle cx="459.6" cy="461.3" r="1.85"/>
<circle cx="461.1" cy="461.4" r="1.85"/>
<circle cx="462.6" cy="461.7" r="1.85"/>
<circle cx="464.1" cy="461.3" r="1.85"/>
<circle cx="465.6" cy="461.4" r="1.85"/>
<circle cx="467.1" cy="461.4" r="1.85"/>
<circle cx="468.6" cy="461.7" r="1.85"/>
<circle cx="470.1" cy="461.2" r="1.85"/>
<circle cx="471.6" cy="461.6" r="1.85"/>
<circle cx="473.1" cy="461.5" r="1.85"/>
<circle cx="474.6" cy="461.4" r="1.85"/>
<circle cx="476.1" cy="461.8" r="1.85"/>
<circle cx="477.6" cy="461.4" r="1.85"/>
<circle cx="479.1" cy="461.0" r="1.85"/>
<circle cx="480.6" cy="461.4" r="1.85"/>
<circle cx="482.1" cy="461.3" r="1.85"/>
<circle cx="483.6" cy="461.3" r="1.85"/>
<circle cx="485.1" cy="461.3" r="1.85"/>
<circle cx="486.6" cy="461.9" r="1.85"/>
<circle cx="488.1" cy="461.3" r="1.85"/>
<circle cx="489.6" cy="461.3" r="1.85"/>
<circle cx="491.1" cy="461.1" r="1.85"/>
<circle cx="492.6" cy="461.5" r="1.85"/>
<circle cx="494.1" cy="461.1" r="1.85"/>
<circle cx="495.6" cy="460.9" r="1.85"/>
<circle cx="497.1" cy="460.7" r="1.85"/>
<circle cx="498.6" cy="461.2" r="1.85"/>
<circle cx="500.1" cy="461.3" r="1.85"/>
<circle cx="501.6" cy="460.5" r="1.85"/>
<circle cx="503.1" cy="460.8" r="1.85"/>
<circle cx="504.6" cy="461.2" r="1.85"/>
<circle cx="506.1" cy="461.3" r="1.85"/>
<circle cx="507.6" cy="460.5" r="1.85"/>
<circle cx="509.1" cy="460.8" r="1.85"/>
<circle cx="510.6" cy="461.1" r="1.85"/>
<circle cx="512.1" cy="460.7" r="1.85"/>
<circle cx="513.6" cy="460.7" r="1.85"/>
<circle cx="515.1" cy="460.7" r="1.85"/>
<circle cx="94.8" cy="653.5" r="2.05"/>
<circle cx="97.9" cy="643.7" r="2.05"/>
<circle cx="100.9" cy="659.0" r="2.05"/>
<circle cx="104.3" cy="656.4" r="2.05"/>
<circle cx="105.2" cy="650.5" r="2.05"/>
<circle cx="107.2" cy="651.5" r="2.05"/>
<circle cx="108.9" cy="648.7" r="2.05"/>
<circle cx="109.6" cy="649.4" r="2.05"/>
<circle cx="114.4" cy="646.4" r="2.05"/>
<circle cx="118.6" cy="656.3" r="2.05"/>
<circle cx="120.3" cy="658.6" r="2.05"/>
</g>
<path d="M115.4,651.0 L119.6,650.5 L119.9,648.5 L120.1,646.5 L120.4,644.5 L120.7,642.5 L120.9,640.4 L121.2,638.4 L121.5,636.4 L121.7,634.4 L122.0,632.4 L122.3,630.4 L122.5,628.5 L122.8,626.5 L123.1,624.6 L123.4,622.7 L123.7,620.9 L123.9,619.2 L124.2,617.4 L124.5,615.7 L124.8,613.8 L125.1,612.0 L125.4,610.1 L125.7,608.0 L125.9,605.9 L126.2,603.6 L126.4,601.1 L126.7,598.4 L126.9,595.4 L127.2,592.4 L127.4,589.3 L127.6,586.1 L127.8,583.0 L128.1,580.0 L128.3,577.1 L128.5,574.5 L128.6,572.1 L128.8,570.0 L129.0,568.3 L129.1,566.8 L129.2,565.6 L129.3,564.6 L129.4,563.7 L129.5,562.9 L129.6,562.2 L129.7,561.5 L129.7,560.8 L129.9,560.0 L130.0,559.1 L130.1,558.0 L130.2,556.8 L130.4,555.5 L130.6,554.1 L130.7,552.7 L130.9,551.2 L131.1,549.8 L131.2,548.3 L131.4,546.8 L131.6,545.4 L131.8,544.0 L132.0,542.6 L132.2,541.3 L132.4,540.0 L132.6,538.8 L132.8,537.5 L133.0,536.3 L133.2,535.1 L133.5,533.9 L133.7,532.8 L133.9,531.6 L134.2,530.5 L134.4,529.4 L134.6,528.4 L134.9,527.4 L135.2,526.4 L135.4,525.5 L135.7,524.7 L135.9,523.8 L136.2,523.0 L136.5,522.2 L136.8,521.5 L137.0,520.7 L137.4,519.9 L137.7,519.2 L138.0,518.4 L138.4,517.6 L138.8,516.8 L139.2,516.0 L139.6,515.1 L140.0,514.3 L140.4,513.5 L140.9,512.7 L141.4,511.8 L141.8,511.0 L142.4,510.2 L142.9,509.4 L143.4,508.7 L144.0,507.9 L144.6,507.1 L145.2,506.4 L145.8,505.7 L146.5,504.9 L147.2,504.2 L147.9,503.5 L148.6,502.8 L149.3,502.1 L150.0,501.4 L150.8,500.8 L151.6,500.1 L152.4,499.5 L153.2,498.9 L154.1,498.3 L155.0,497.7 L155.9,497.2 L156.8,496.6 L157.8,496.1 L158.7,495.6 L159.7,495.1 L160.6,494.6 L161.6,494.1 L162.6,493.6 L163.5,493.2 L164.4,492.8 L165.4,492.4 L166.3,492.0 L167.2,491.7 L168.1,491.3 L169.0,491.0 L169.9,490.7 L170.9,490.4 L171.9,490.0 L172.9,489.7 L173.9,489.4 L175.0,489.0 L176.1,488.6 L177.3,488.2 L178.5,487.8 L179.8,487.4 L181.0,487.0 L182.3,486.6 L183.6,486.2 L184.9,485.8 L186.2,485.4 L187.5,485.0 L188.8,484.7 L190.0,484.3 L191.2,484.0 L192.3,483.6 L193.5,483.3 L194.5,483.0 L195.6,482.7 L196.7,482.4 L197.9,482.1 L199.0,481.8 L200.2,481.6 L201.5,481.3 L202.8,481.0 L204.2,480.7 L205.7,480.4 L207.2,480.1 L208.8,479.8 L210.5,479.6 L212.2,479.3 L213.9,479.0 L215.7,478.7 L217.5,478.4 L219.3,478.2 L221.2,477.9 L223.1,477.6 L225.0,477.3 L227.0,477.0 L229.0,476.7 L231.1,476.4 L233.2,476.1 L235.4,475.8 L237.6,475.4 L239.7,475.1 L241.9,474.8 L244.0,474.5 L246.1,474.2 L248.1,473.9 L250.0,473.6 L251.8,473.3 L253.6,473.0 L255.4,472.7 L257.0,472.4 L258.7,472.2 L260.3,471.9 L261.9,471.6 L263.5,471.3 L265.1,471.1 L266.7,470.8 L268.3,470.5 L270.0,470.3 L271.6,470.1 L273.2,469.8 L274.8,469.6 L276.3,469.4 L277.8,469.2 L279.4,469.0 L281.0,468.8 L282.6,468.6 L284.3,468.4 L286.1,468.2 L288.0,468.0 L290.0,467.8 L292.2,467.6 L294.5,467.4 L297.0,467.3 L299.6,467.1 L302.3,466.9 L305.0,466.7 L307.7,466.6 L310.4,466.4 L313.0,466.2 L315.5,466.1 L317.8,465.9 L320.0,465.8 L322.0,465.7 L323.8,465.5 L325.5,465.4 L327.0,465.3 L328.5,465.2 L330.0,465.1 L331.5,465.0 L333.0,464.9 L334.5,464.7 L336.2,464.6 L338.0,464.5 L340.0,464.4 L342.1,464.3 L344.4,464.2 L346.8,464.0 L349.3,463.9 L351.8,463.8 L354.4,463.6 L357.0,463.5 L359.6,463.4 L362.3,463.2 L364.9,463.1 L367.5,463.0 L370.0,462.9 L372.4,462.8 L374.8,462.7 L377.0,462.6 L379.3,462.5 L381.5,462.4 L383.8,462.3 L386.1,462.2 L388.5,462.2 L391.1,462.1 L393.8,462.0 L396.8,461.9 L400.0,461.8 L403.4,461.7 L407.0,461.6 L410.7,461.5 L414.6,461.4 L418.6,461.3 L422.7,461.2 L426.9,461.1 L431.3,461.0 L435.8,460.9 L440.5,460.8 L445.2,460.7 L450.0,460.6 L455.0,460.5 L460.2,460.4 L465.6,460.4 L471.1,460.3 L476.7,460.2 L482.4,460.2 L488.2,460.1 L494.0,460.1 L499.9,460.0 L505.6,459.9 L511.4,459.9 L517.0,459.8" fill="none" stroke="#000" stroke-width="1.55" stroke-linejoin="round"/>
<path d="M154.6,649.6 L154.9,648.8 L155.3,648.1 L155.6,647.4 L155.9,646.6 L156.3,645.9 L156.6,645.2 L157.0,644.5 L157.3,643.7 L157.6,642.9 L157.9,642.0 L158.2,641.0 L158.5,640.0 L158.8,638.9 L159.0,637.8 L159.2,636.7 L159.5,635.5 L159.7,634.3 L159.9,633.0 L160.1,631.6 L160.3,630.2 L160.5,628.8 L160.7,627.2 L160.9,625.5 L161.1,623.8 L161.3,621.9 L161.6,619.9 L161.8,617.8 L162.0,615.6 L162.2,613.4 L162.5,611.0 L162.7,608.7 L162.9,606.3 L163.2,603.9 L163.4,601.5 L163.6,599.2 L163.8,596.9 L164.0,594.6 L164.2,592.4 L164.4,590.1 L164.6,587.8 L164.8,585.5 L164.9,583.2 L165.1,580.9 L165.3,578.7 L165.5,576.5 L165.6,574.3 L165.8,572.1 L165.9,570.0 L166.0,567.9 L166.1,565.9 L166.2,563.9 L166.3,561.9 L166.3,560.0 L166.4,558.1 L166.4,556.2 L166.5,554.3 L166.6,552.4 L166.7,550.6 L166.8,548.7 L167.0,546.9 L167.2,545.1 L167.4,543.2 L167.7,541.3 L168.0,539.4 L168.2,537.5 L168.5,535.7 L168.8,533.9 L169.2,532.2 L169.5,530.5 L169.8,528.9 L170.2,527.4 L170.5,526.0 L170.8,524.7 L171.2,523.5 L171.5,522.4 L171.9,521.4 L172.3,520.4 L172.7,519.5 L173.0,518.6 L173.4,517.8 L173.8,517.0 L174.2,516.2 L174.6,515.5 L175.0,514.8 L175.4,514.1 L175.8,513.5 L176.2,513.0 L176.6,512.5 L177.0,512.1 L177.4,511.7 L177.8,511.3 L178.2,510.9 L178.6,510.4 L179.1,510.0 L179.5,509.5 L180.0,508.9 L180.5,508.3 L181.0,507.6 L181.5,506.9 L182.0,506.2 L182.5,505.4 L183.0,504.6 L183.5,503.9 L184.1,503.1 L184.7,502.3 L185.3,501.6 L186.0,500.9 L186.7,500.2 L187.4,499.5 L188.2,498.9 L189.0,498.2 L189.8,497.6 L190.6,497.0 L191.5,496.4 L192.4,495.8 L193.4,495.2 L194.3,494.6 L195.3,494.0 L196.4,493.4 L197.5,492.8 L198.7,492.2 L199.9,491.6 L201.2,491.0 L202.6,490.4 L204.0,489.8 L205.4,489.2 L206.8,488.6 L208.2,488.1 L209.6,487.5 L211.0,487.0 L212.3,486.5 L213.6,486.0 L214.8,485.6 L215.9,485.2 L216.9,484.8 L217.9,484.4 L218.9,484.1 L219.9,483.8 L220.9,483.5 L222.0,483.2 L223.1,482.9 L224.3,482.5 L225.7,482.2 L227.1,481.8 L228.7,481.4 L230.4,481.0 L232.2,480.5 L234.1,480.1 L236.1,479.6 L238.1,479.2 L240.2,478.7 L242.2,478.3 L244.3,477.8 L246.2,477.4 L248.2,477.0 L250.0,476.6 L251.8,476.2 L253.5,475.9 L255.2,475.6 L256.9,475.3 L258.5,475.0 L260.2,474.7 L261.8,474.4 L263.4,474.1 L265.1,473.8 L266.7,473.5 L268.3,473.1 L270.0,472.8 L271.6,472.4 L273.2,472.1 L274.8,471.7 L276.3,471.3 L277.8,471.0 L279.4,470.6 L281.0,470.2 L282.6,469.8 L284.3,469.4 L286.1,469.0 L288.0,468.6 L290.0,468.2 L292.2,467.8 L294.5,467.4 L297.0,466.9 L299.6,466.5 L302.3,466.1 L305.0,465.6 L307.7,465.2 L310.4,464.8 L313.0,464.3 L315.5,463.9 L317.8,463.6 L320.0,463.2 L322.0,462.9 L323.8,462.5 L325.5,462.2 L327.0,461.9 L328.5,461.6 L330.0,461.3 L331.5,461.1 L333.0,460.8 L334.5,460.5 L336.2,460.3 L338.0,460.0 L340.0,459.8 L342.1,459.6 L344.4,459.3 L346.8,459.1 L349.3,458.9 L351.8,458.7 L354.4,458.5 L357.0,458.3 L359.6,458.2 L362.3,458.0 L364.9,457.8 L367.5,457.7 L370.0,457.5 L372.4,457.4 L374.8,457.2 L377.0,457.1 L379.3,457.0 L381.5,456.9 L383.8,456.8 L386.1,456.7 L388.5,456.6 L391.1,456.5 L393.8,456.4 L396.8,456.3 L400.0,456.2 L403.4,456.1 L407.0,456.0 L410.7,455.9 L414.6,455.8 L418.6,455.7 L422.7,455.6 L426.9,455.5 L431.3,455.4 L435.8,455.3 L440.5,455.2 L445.2,455.1 L450.0,455.0 L455.0,454.9 L460.2,454.8 L465.6,454.7 L471.1,454.7 L476.7,454.6 L482.4,454.5 L488.2,454.4 L494.0,454.3 L499.9,454.2 L505.6,454.2 L511.4,454.1 L517.0,454.0" fill="none" stroke="#000" stroke-width="1.55" stroke-linejoin="round"/>
<path d="M182.8,650.8 L183.1,650.5 L183.4,650.2 L183.7,649.9 L184.0,649.7 L184.4,649.4 L184.7,649.1 L185.0,648.9 L185.3,648.5 L185.6,648.2 L185.9,647.7 L186.1,647.2 L186.4,646.6 L186.6,645.9 L186.9,645.2 L187.1,644.4 L187.3,643.6 L187.6,642.7 L187.8,641.8 L188.0,640.8 L188.2,639.8 L188.4,638.7 L188.5,637.6 L188.7,636.4 L188.9,635.2 L189.1,633.9 L189.2,632.6 L189.4,631.2 L189.5,629.7 L189.6,628.2 L189.8,626.7 L189.9,625.1 L190.0,623.6 L190.1,622.0 L190.2,620.4 L190.4,618.8 L190.5,617.2 L190.6,615.6 L190.8,614.0 L190.9,612.5 L191.1,610.8 L191.2,609.2 L191.3,607.6 L191.5,606.0 L191.6,604.3 L191.8,602.7 L191.9,601.0 L192.1,599.3 L192.2,597.6 L192.3,595.9 L192.5,594.1 L192.6,592.3 L192.7,590.4 L192.9,588.6 L193.0,586.7 L193.1,584.9 L193.3,583.1 L193.4,581.3 L193.5,579.6 L193.7,577.9 L193.8,576.3 L193.9,574.8 L194.1,573.3 L194.2,571.9 L194.3,570.5 L194.5,569.1 L194.6,567.8 L194.7,566.5 L194.9,565.2 L195.0,563.9 L195.1,562.6 L195.3,561.3 L195.4,560.0 L195.5,558.7 L195.6,557.4 L195.7,556.2 L195.8,555.0 L195.9,553.8 L196.0,552.5 L196.1,551.3 L196.2,550.1 L196.3,548.8 L196.5,547.4 L196.6,546.0 L196.8,544.6 L197.0,543.1 L197.2,541.4 L197.5,539.7 L197.7,538.0 L198.0,536.2 L198.3,534.4 L198.6,532.6 L198.9,530.8 L199.2,529.1 L199.5,527.4 L199.9,525.9 L200.2,524.4 L200.5,523.0 L200.9,521.7 L201.2,520.5 L201.6,519.3 L201.9,518.2 L202.3,517.1 L202.7,516.1 L203.1,515.0 L203.5,514.0 L203.9,513.0 L204.4,512.0 L204.9,511.0 L205.4,510.0 L205.9,509.0 L206.5,508.1 L207.0,507.1 L207.6,506.2 L208.2,505.3 L208.8,504.4 L209.5,503.6 L210.1,502.7 L210.8,501.9 L211.6,501.0 L212.3,500.2 L213.1,499.4 L213.9,498.6 L214.8,497.8 L215.7,497.0 L216.6,496.2 L217.5,495.5 L218.4,494.7 L219.4,494.0 L220.3,493.3 L221.3,492.6 L222.2,492.0 L223.1,491.4 L224.0,490.8 L224.9,490.3 L225.7,489.8 L226.6,489.3 L227.4,488.9 L228.3,488.5 L229.1,488.1 L230.0,487.7 L230.9,487.3 L231.9,486.9 L232.8,486.4 L233.8,486.0 L234.8,485.5 L235.9,485.1 L237.0,484.6 L238.0,484.1 L239.2,483.6 L240.3,483.2 L241.4,482.7 L242.6,482.3 L243.8,481.8 L244.9,481.4 L246.1,481.0 L247.3,480.6 L248.5,480.2 L249.7,479.9 L250.9,479.6 L252.2,479.3 L253.4,479.0 L254.7,478.7 L255.9,478.5 L257.2,478.2 L258.4,477.9 L259.6,477.7 L260.8,477.4 L262.0,477.2 L263.1,477.0 L264.2,476.8 L265.3,476.6 L266.4,476.4 L267.4,476.2 L268.5,476.1 L269.5,475.9 L270.6,475.7 L271.6,475.5 L272.7,475.2 L273.9,474.9 L275.0,474.6 L276.1,474.2 L277.2,473.8 L278.3,473.3 L279.3,472.9 L280.3,472.4 L281.4,471.8 L282.6,471.3 L283.8,470.8 L285.1,470.2 L286.6,469.7 L288.2,469.1 L290.0,468.6 L292.0,468.1 L294.2,467.5 L296.7,467.0 L299.3,466.4 L301.9,465.8 L304.7,465.2 L307.4,464.7 L310.2,464.1 L312.9,463.6 L315.4,463.1 L317.8,462.6 L320.0,462.2 L322.0,461.8 L323.8,461.4 L325.5,461.1 L327.0,460.8 L328.5,460.5 L330.0,460.2 L331.5,459.9 L333.0,459.7 L334.5,459.4 L336.2,459.2 L338.0,458.9 L340.0,458.7 L342.1,458.5 L344.4,458.2 L346.8,458.0 L349.3,457.8 L351.8,457.6 L354.4,457.4 L357.0,457.2 L359.6,457.0 L362.3,456.9 L364.9,456.7 L367.5,456.5 L370.0,456.4 L372.4,456.3 L374.8,456.1 L377.0,456.0 L379.3,455.9 L381.5,455.8 L383.8,455.7 L386.1,455.7 L388.5,455.6 L391.1,455.5 L393.8,455.4 L396.8,455.3 L400.0,455.2 L403.4,455.1 L407.0,455.0 L410.7,454.9 L414.6,454.8 L418.6,454.7 L422.7,454.5 L426.9,454.4 L431.3,454.3 L435.8,454.2 L440.5,454.1 L445.2,454.0 L450.0,453.9 L455.0,453.8 L460.2,453.7 L465.6,453.6 L471.1,453.5 L476.7,453.5 L482.4,453.4 L488.2,453.3 L494.0,453.2 L499.9,453.1 L505.6,453.1 L511.4,453.0 L517.0,452.9" fill="none" stroke="#000" stroke-width="1.55" stroke-linejoin="round"/>
<path d="M217.4,649.8 L217.7,649.3 L218.0,648.8 L218.3,648.4 L218.6,647.9 L218.9,647.5 L219.2,647.0 L219.5,646.5 L219.7,646.0 L220.0,645.5 L220.3,644.9 L220.6,644.2 L220.8,643.4 L221.0,642.6 L221.3,641.7 L221.5,640.8 L221.7,639.8 L221.9,638.8 L222.1,637.8 L222.2,636.7 L222.4,635.5 L222.6,634.3 L222.8,633.0 L223.0,631.7 L223.2,630.3 L223.4,628.8 L223.6,627.3 L223.8,625.7 L224.0,624.0 L224.2,622.3 L224.4,620.6 L224.7,618.8 L224.9,616.9 L225.1,615.0 L225.3,613.0 L225.5,611.0 L225.7,609.0 L225.9,606.9 L226.1,604.7 L226.3,602.4 L226.5,600.0 L226.7,597.5 L226.9,595.1 L227.2,592.6 L227.4,590.2 L227.6,587.8 L227.7,585.5 L227.9,583.3 L228.1,581.2 L228.3,579.2 L228.4,577.2 L228.6,575.2 L228.7,573.3 L228.9,571.5 L229.0,569.7 L229.1,567.9 L229.3,566.2 L229.4,564.5 L229.5,563.0 L229.7,561.4 L229.8,560.0 L229.9,558.7 L230.1,557.5 L230.2,556.4 L230.3,555.4 L230.4,554.5 L230.5,553.6 L230.6,552.7 L230.7,551.8 L230.9,550.8 L231.0,549.7 L231.1,548.6 L231.3,547.3 L231.5,545.9 L231.6,544.3 L231.8,542.6 L232.0,540.9 L232.1,539.1 L232.3,537.2 L232.5,535.4 L232.7,533.6 L232.9,531.9 L233.2,530.2 L233.4,528.7 L233.7,527.3 L234.0,526.0 L234.3,524.8 L234.7,523.7 L235.1,522.6 L235.5,521.6 L235.9,520.6 L236.3,519.7 L236.7,518.8 L237.1,517.9 L237.5,517.1 L237.9,516.3 L238.2,515.5 L238.5,514.8 L238.8,514.1 L239.0,513.4 L239.2,512.9 L239.4,512.3 L239.6,511.8 L239.8,511.3 L240.0,510.8 L240.3,510.2 L240.5,509.7 L240.7,509.2 L241.0,508.6 L241.3,508.0 L241.6,507.4 L241.9,506.7 L242.2,506.1 L242.5,505.5 L242.9,504.8 L243.2,504.2 L243.5,503.6 L243.9,502.9 L244.3,502.3 L244.6,501.8 L245.0,501.2 L245.4,500.7 L245.7,500.2 L246.1,499.7 L246.5,499.2 L246.9,498.8 L247.3,498.4 L247.7,497.9 L248.1,497.5 L248.6,497.0 L249.0,496.6 L249.5,496.1 L250.0,495.6 L250.5,495.1 L251.1,494.5 L251.7,494.0 L252.3,493.4 L252.9,492.8 L253.6,492.2 L254.2,491.6 L254.9,491.1 L255.6,490.5 L256.2,489.9 L256.9,489.4 L257.5,488.9 L258.1,488.4 L258.7,487.9 L259.4,487.5 L260.0,487.1 L260.6,486.6 L261.2,486.2 L261.8,485.8 L262.5,485.4 L263.1,485.0 L263.7,484.6 L264.4,484.2 L265.0,483.8 L265.6,483.4 L266.3,483.0 L267.0,482.6 L267.6,482.3 L268.3,481.9 L269.0,481.5 L269.6,481.2 L270.3,480.8 L271.0,480.5 L271.7,480.1 L272.3,479.8 L273.0,479.5 L273.7,479.2 L274.3,478.9 L275.0,478.6 L275.6,478.4 L276.3,478.1 L276.9,477.9 L277.6,477.6 L278.3,477.4 L278.9,477.1 L279.6,476.8 L280.3,476.5 L281.0,476.2 L281.7,475.8 L282.4,475.5 L283.2,475.1 L283.9,474.7 L284.6,474.3 L285.4,473.8 L286.1,473.4 L286.9,473.0 L287.7,472.6 L288.4,472.1 L289.2,471.7 L290.0,471.3 L290.8,470.9 L291.5,470.5 L292.2,470.1 L292.9,469.7 L293.6,469.3 L294.3,468.9 L295.1,468.5 L295.9,468.1 L296.8,467.7 L297.7,467.3 L298.8,466.9 L300.0,466.5 L301.3,466.1 L302.8,465.7 L304.3,465.2 L305.9,464.8 L307.6,464.4 L309.4,463.9 L311.2,463.5 L313.0,463.1 L314.8,462.7 L316.6,462.3 L318.3,461.9 L320.0,461.5 L321.6,461.1 L323.2,460.8 L324.8,460.5 L326.3,460.1 L327.8,459.8 L329.4,459.5 L331.0,459.2 L332.6,459.0 L334.3,458.7 L336.1,458.4 L338.0,458.2 L340.0,457.9 L342.1,457.7 L344.4,457.4 L346.8,457.2 L349.3,457.0 L351.8,456.8 L354.4,456.6 L357.0,456.4 L359.6,456.2 L362.3,456.1 L364.9,455.9 L367.5,455.8 L370.0,455.6 L372.4,455.5 L374.8,455.3 L377.0,455.2 L379.3,455.1 L381.5,455.0 L383.8,454.9 L386.1,454.8 L388.5,454.7 L391.1,454.6 L393.8,454.5 L396.8,454.4 L400.0,454.3 L403.4,454.2 L407.0,454.1 L410.7,453.9 L414.6,453.8 L418.6,453.7 L422.7,453.6 L426.9,453.5 L431.3,453.3 L435.8,453.2 L440.5,453.1 L445.2,453.0 L450.0,452.9 L455.0,452.8 L460.2,452.7 L465.6,452.6 L471.1,452.5 L476.7,452.4 L482.4,452.3 L488.2,452.2 L494.0,452.2 L499.9,452.1 L505.6,452.0 L511.4,451.9 L517.0,451.8" fill="none" stroke="#000" stroke-width="1.55" stroke-linejoin="round"/>
<path d="M238.8,647.6 L239.1,647.3 L239.3,647.0 L239.6,646.7 L239.9,646.4 L240.2,646.1 L240.4,645.9 L240.7,645.5 L241.0,645.2 L241.2,644.8 L241.5,644.4 L241.8,643.9 L242.0,643.4 L242.2,642.8 L242.5,642.2 L242.7,641.6 L242.9,641.0 L243.1,640.3 L243.3,639.6 L243.5,638.8 L243.7,637.9 L243.9,637.0 L244.1,636.0 L244.3,634.8 L244.5,633.6 L244.7,632.2 L244.9,630.7 L245.1,629.1 L245.3,627.4 L245.5,625.6 L245.8,623.8 L246.0,621.9 L246.2,619.9 L246.4,618.0 L246.5,616.1 L246.7,614.2 L246.9,612.3 L247.1,610.5 L247.2,608.7 L247.4,606.8 L247.5,605.0 L247.6,603.2 L247.8,601.4 L247.9,599.5 L248.0,597.6 L248.2,595.6 L248.3,593.6 L248.5,591.5 L248.6,589.4 L248.8,587.1 L248.9,584.7 L249.1,582.1 L249.2,579.4 L249.4,576.6 L249.6,573.9 L249.7,571.2 L249.9,568.6 L250.1,566.1 L250.2,563.9 L250.4,561.8 L250.5,560.0 L250.6,558.5 L250.8,557.4 L250.9,556.4 L251.0,555.7 L251.1,555.1 L251.2,554.6 L251.3,554.1 L251.4,553.6 L251.5,552.9 L251.6,552.2 L251.8,551.2 L251.9,550.0 L252.0,548.5 L252.2,546.8 L252.3,545.0 L252.5,543.0 L252.6,541.0 L252.8,538.9 L252.9,536.7 L253.1,534.7 L253.3,532.6 L253.5,530.7 L253.7,528.9 L253.9,527.3 L254.1,525.8 L254.4,524.5 L254.6,523.2 L254.9,522.0 L255.2,520.9 L255.4,519.8 L255.7,518.7 L256.0,517.7 L256.3,516.7 L256.6,515.8 L257.0,514.8 L257.3,513.8 L257.6,512.8 L258.0,511.9 L258.4,510.9 L258.7,510.0 L259.1,509.1 L259.5,508.3 L259.9,507.4 L260.3,506.6 L260.7,505.8 L261.1,505.0 L261.5,504.3 L261.9,503.5 L262.3,502.8 L262.7,502.0 L263.0,501.4 L263.4,500.7 L263.8,500.0 L264.2,499.4 L264.6,498.8 L265.0,498.2 L265.3,497.6 L265.7,497.0 L266.1,496.4 L266.5,495.8 L266.9,495.2 L267.3,494.7 L267.6,494.2 L268.0,493.7 L268.4,493.2 L268.8,492.7 L269.1,492.2 L269.5,491.7 L269.9,491.2 L270.3,490.7 L270.8,490.2 L271.2,489.6 L271.7,489.0 L272.1,488.4 L272.6,487.7 L273.1,487.1 L273.6,486.4 L274.1,485.7 L274.6,485.1 L275.2,484.4 L275.7,483.7 L276.2,483.1 L276.8,482.5 L277.3,481.9 L277.8,481.3 L278.4,480.8 L279.0,480.2 L279.5,479.7 L280.1,479.2 L280.7,478.7 L281.3,478.2 L281.9,477.7 L282.4,477.2 L283.0,476.7 L283.6,476.3 L284.2,475.8 L284.8,475.4 L285.3,475.0 L285.9,474.6 L286.5,474.2 L287.0,473.8 L287.6,473.4 L288.2,473.1 L288.7,472.7 L289.3,472.4 L289.9,472.0 L290.6,471.6 L291.2,471.2 L291.8,470.8 L292.4,470.4 L293.0,469.9 L293.6,469.5 L294.2,469.1 L294.8,468.6 L295.4,468.2 L296.2,467.7 L297.0,467.3 L297.9,466.9 L298.9,466.4 L300.0,466.0 L301.3,465.6 L302.7,465.1 L304.2,464.7 L305.8,464.3 L307.5,463.8 L309.3,463.4 L311.1,463.0 L312.9,462.6 L314.7,462.2 L316.5,461.8 L318.3,461.4 L320.0,461.0 L321.6,460.6 L323.2,460.3 L324.8,460.0 L326.3,459.6 L327.8,459.3 L329.4,459.0 L331.0,458.7 L332.6,458.4 L334.3,458.1 L336.1,457.8 L338.0,457.6 L340.0,457.3 L342.1,457.1 L344.4,456.8 L346.8,456.6 L349.3,456.4 L351.8,456.2 L354.4,456.0 L357.0,455.8 L359.6,455.6 L362.3,455.4 L364.9,455.2 L367.5,455.1 L370.0,454.9 L372.4,454.7 L374.8,454.6 L377.0,454.5 L379.3,454.4 L381.5,454.3 L383.8,454.1 L386.1,454.0 L388.5,453.9 L391.1,453.8 L393.8,453.7 L396.8,453.6 L400.0,453.5 L403.4,453.4 L407.0,453.3 L410.7,453.1 L414.6,453.0 L418.6,452.9 L422.7,452.7 L426.9,452.6 L431.3,452.5 L435.8,452.4 L440.5,452.2 L445.2,452.1 L450.0,452.0 L455.0,451.9 L460.2,451.8 L465.6,451.7 L471.1,451.6 L476.7,451.4 L482.4,451.3 L488.2,451.2 L494.0,451.1 L499.9,451.0 L505.6,450.9 L511.4,450.8 L517.0,450.7" fill="none" stroke="#000" stroke-width="1.55" stroke-linejoin="round"/>
</g>
<path d="M104.98 663.8v-3.5M104.98 397.0v3.5M123.75 663.8v-6.0M123.75 397.0v6.0M142.52 663.8v-3.5M142.52 397.0v3.5M161.29 663.8v-3.5M161.29 397.0v3.5M180.07 663.8v-3.5M180.07 397.0v3.5M198.84 663.8v-3.5M198.84 397.0v3.5M217.61 663.8v-6.0M217.61 397.0v6.0M236.38 663.8v-3.5M236.38 397.0v3.5M255.15 663.8v-3.5M255.15 397.0v3.5M273.93 663.8v-3.5M273.93 397.0v3.5M292.70 663.8v-3.5M292.70 397.0v3.5M311.47 663.8v-6.0M311.47 397.0v6.0M330.24 663.8v-3.5M330.24 397.0v3.5M349.01 663.8v-3.5M349.01 397.0v3.5M367.79 663.8v-3.5M367.79 397.0v3.5M386.56 663.8v-3.5M386.56 397.0v3.5M405.33 663.8v-6.0M405.33 397.0v6.0M424.10 663.8v-3.5M424.10 397.0v3.5M442.87 663.8v-3.5M442.87 397.0v3.5M461.65 663.8v-3.5M461.65 397.0v3.5M480.42 663.8v-3.5M480.42 397.0v3.5M499.19 663.8v-6.0M499.19 397.0v6.0M86.4 655.06h3.5M516.2 655.06h-3.5M86.4 648.19h3.5M516.2 648.19h-3.5M86.4 642.86h3.5M516.2 642.86h-3.5M86.4 638.50h3.5M516.2 638.50h-3.5M86.4 634.82h3.5M516.2 634.82h-3.5M86.4 631.63h3.5M516.2 631.63h-3.5M86.4 628.82h3.5M516.2 628.82h-3.5M86.4 626.30h6.0M516.2 626.30h-6.0M86.4 609.74h3.5M516.2 609.74h-3.5M86.4 600.06h3.5M516.2 600.06h-3.5M86.4 593.19h3.5M516.2 593.19h-3.5M86.4 587.86h3.5M516.2 587.86h-3.5M86.4 583.50h3.5M516.2 583.50h-3.5M86.4 579.82h3.5M516.2 579.82h-3.5M86.4 576.63h3.5M516.2 576.63h-3.5M86.4 573.82h3.5M516.2 573.82h-3.5M86.4 571.30h6.0M516.2 571.30h-6.0M86.4 554.74h3.5M516.2 554.74h-3.5M86.4 545.06h3.5M516.2 545.06h-3.5M86.4 538.19h3.5M516.2 538.19h-3.5M86.4 532.86h3.5M516.2 532.86h-3.5M86.4 528.50h3.5M516.2 528.50h-3.5M86.4 524.82h3.5M516.2 524.82h-3.5M86.4 521.63h3.5M516.2 521.63h-3.5M86.4 518.82h3.5M516.2 518.82h-3.5M86.4 516.30h6.0M516.2 516.30h-6.0M86.4 499.74h3.5M516.2 499.74h-3.5M86.4 490.06h3.5M516.2 490.06h-3.5M86.4 483.19h3.5M516.2 483.19h-3.5M86.4 477.86h3.5M516.2 477.86h-3.5M86.4 473.50h3.5M516.2 473.50h-3.5M86.4 469.82h3.5M516.2 469.82h-3.5M86.4 466.63h3.5M516.2 466.63h-3.5M86.4 463.82h3.5M516.2 463.82h-3.5M86.4 461.30h6.0M516.2 461.30h-6.0M86.4 444.74h3.5M516.2 444.74h-3.5M86.4 435.06h3.5M516.2 435.06h-3.5M86.4 428.19h3.5M516.2 428.19h-3.5M86.4 422.86h3.5M516.2 422.86h-3.5M86.4 418.50h3.5M516.2 418.50h-3.5M86.4 414.82h3.5M516.2 414.82h-3.5M86.4 411.63h3.5M516.2 411.63h-3.5M86.4 408.82h3.5M516.2 408.82h-3.5M86.4 406.30h6.0M516.2 406.30h-6.0" stroke="#000" stroke-width="1.2" fill="none"/>
<rect x="86.4" y="397.0" width="429.8" height="266.8" fill="none" stroke="#000" stroke-width="1.6"/>
<text x="76" y="633.2" text-anchor="end" font-size="19">10<tspan dy="-7.5" font-size="13.3">15</tspan></text>
<text x="76" y="578.2" text-anchor="end" font-size="19">10<tspan dy="-7.5" font-size="13.3">16</tspan></text>
<text x="76" y="523.2" text-anchor="end" font-size="19">10<tspan dy="-7.5" font-size="13.3">17</tspan></text>
<text x="76" y="468.2" text-anchor="end" font-size="19">10<tspan dy="-7.5" font-size="13.3">18</tspan></text>
<text x="76" y="413.2" text-anchor="end" font-size="19">10<tspan dy="-7.5" font-size="13.3">19</tspan></text>
<text x="123.8" y="686" text-anchor="middle" font-size="19">3</text>
<text x="217.6" y="686" text-anchor="middle" font-size="19">4</text>
<text x="311.5" y="686" text-anchor="middle" font-size="19">5</text>
<text x="405.3" y="686" text-anchor="middle" font-size="19">6</text>
<text x="499.2" y="686" text-anchor="middle" font-size="19">7</text>
<text x="301.4" y="713.5" text-anchor="middle" font-size="19.5">Depth (µm)</text>
<text transform="translate(20.9,532.4) rotate(-90)" text-anchor="middle" font-size="19.4">Sn concentration (cm<tspan dy="-7.5" font-size="13.3">−3</tspan><tspan dy="7.5">)</tspan></text>
<text x="0" y="389.5" font-size="20.5">(c)</text>
<circle cx="377.8" cy="486.9" r="2.0" fill="rgb(100,62,190)" fill-opacity="0.6" stroke="rgb(100,62,190)" stroke-opacity="0.6" stroke-width="0.9"/>
<text x="409.3" y="492.1" font-size="17.5">As-grown</text>
<circle cx="377.8" cy="512.4" r="2.0" fill="rgb(110,30,155)" fill-opacity="0.6" stroke="rgb(110,30,155)" stroke-opacity="0.6" stroke-width="0.9"/>
<text x="409.3" y="517.6" font-size="17.5">1050°C</text>
<circle cx="377.8" cy="537.8" r="2.0" fill="rgb(165,65,155)" fill-opacity="0.6" stroke="rgb(165,65,155)" stroke-opacity="0.6" stroke-width="0.9"/>
<text x="409.3" y="543.0" font-size="17.5">1100°C</text>
<circle cx="377.8" cy="563.2" r="2.0" fill="rgb(222,125,155)" fill-opacity="0.6" stroke="rgb(222,125,155)" stroke-opacity="0.6" stroke-width="0.9"/>
<text x="409.3" y="568.5" font-size="17.5">1150°C</text>
<circle cx="377.8" cy="588.7" r="2.0" fill="rgb(236,120,48)" fill-opacity="0.6" stroke="rgb(236,120,48)" stroke-opacity="0.6" stroke-width="0.9"/>
<text x="409.3" y="593.9" font-size="17.5">1200°C</text>
<circle cx="377.8" cy="614.1" r="2.0" fill="rgb(245,195,40)" fill-opacity="0.6" stroke="rgb(245,195,40)" stroke-opacity="0.6" stroke-width="0.9"/>
<text x="409.3" y="619.4" font-size="17.5">1250°C</text>
<path d="M359.4 639.6H396.6" stroke="#000" stroke-width="2"/>
<text x="409.3" y="644.8" font-size="17.5">Simulation</text>
</svg>
</body></html>
